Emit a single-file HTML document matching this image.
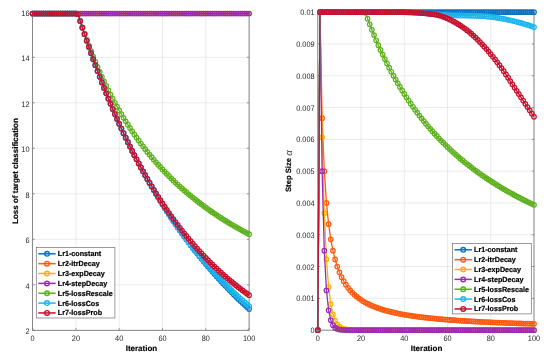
<!DOCTYPE html>
<html><head><meta charset="utf-8"><title>Learning rate comparison</title>
<style>html,body{margin:0;padding:0;background:#fff}svg{display:block}</style></head>
<body>
<svg width="550" height="359" viewBox="0 0 550 359">
<style>text{font-family:"Liberation Sans",Arial,sans-serif;text-rendering:geometricPrecision}.tk{font-size:8.0px;fill:#262626}.lb{font-size:8.0px;font-weight:bold;fill:#000;stroke:#000;stroke-width:0.15px}.lg{font-size:7.4px;font-weight:bold;fill:#000;stroke:#000;stroke-width:0.2px}.lb2{font-size:7.7px}.al{font-size:9.6px;font-weight:normal;font-style:italic;fill:#444;stroke:none}</style>
<rect width="550" height="359" fill="#fff"/>
<line x1="32.60" y1="11.80" x2="32.60" y2="330.30" stroke="#e2e2e2" stroke-width="0.7"/>
<line x1="75.90" y1="11.80" x2="75.90" y2="330.30" stroke="#e2e2e2" stroke-width="0.7"/>
<line x1="119.20" y1="11.80" x2="119.20" y2="330.30" stroke="#e2e2e2" stroke-width="0.7"/>
<line x1="162.50" y1="11.80" x2="162.50" y2="330.30" stroke="#e2e2e2" stroke-width="0.7"/>
<line x1="205.80" y1="11.80" x2="205.80" y2="330.30" stroke="#e2e2e2" stroke-width="0.7"/>
<line x1="249.10" y1="11.80" x2="249.10" y2="330.30" stroke="#e2e2e2" stroke-width="0.7"/>
<line x1="32.60" y1="330.30" x2="249.10" y2="330.30" stroke="#e2e2e2" stroke-width="0.7"/>
<line x1="32.60" y1="284.80" x2="249.10" y2="284.80" stroke="#e2e2e2" stroke-width="0.7"/>
<line x1="32.60" y1="239.30" x2="249.10" y2="239.30" stroke="#e2e2e2" stroke-width="0.7"/>
<line x1="32.60" y1="193.80" x2="249.10" y2="193.80" stroke="#e2e2e2" stroke-width="0.7"/>
<line x1="32.60" y1="148.30" x2="249.10" y2="148.30" stroke="#e2e2e2" stroke-width="0.7"/>
<line x1="32.60" y1="102.80" x2="249.10" y2="102.80" stroke="#e2e2e2" stroke-width="0.7"/>
<line x1="32.60" y1="57.30" x2="249.10" y2="57.30" stroke="#e2e2e2" stroke-width="0.7"/>
<line x1="32.60" y1="11.80" x2="249.10" y2="11.80" stroke="#e2e2e2" stroke-width="0.7"/>
<rect x="32.60" y="11.80" width="216.50" height="318.50" fill="none" stroke="#707070" stroke-width="0.8"/>
<line x1="32.60" y1="330.30" x2="32.60" y2="328.10" stroke="#707070" stroke-width="0.7"/>
<line x1="32.60" y1="11.80" x2="32.60" y2="14.00" stroke="#707070" stroke-width="0.7"/>
<text transform="translate(32.60,340.80) scale(0.92,1)" text-anchor="middle" class="tk">0</text>
<line x1="75.90" y1="330.30" x2="75.90" y2="328.10" stroke="#707070" stroke-width="0.7"/>
<line x1="75.90" y1="11.80" x2="75.90" y2="14.00" stroke="#707070" stroke-width="0.7"/>
<text transform="translate(75.90,340.80) scale(0.92,1)" text-anchor="middle" class="tk">20</text>
<line x1="119.20" y1="330.30" x2="119.20" y2="328.10" stroke="#707070" stroke-width="0.7"/>
<line x1="119.20" y1="11.80" x2="119.20" y2="14.00" stroke="#707070" stroke-width="0.7"/>
<text transform="translate(119.20,340.80) scale(0.92,1)" text-anchor="middle" class="tk">40</text>
<line x1="162.50" y1="330.30" x2="162.50" y2="328.10" stroke="#707070" stroke-width="0.7"/>
<line x1="162.50" y1="11.80" x2="162.50" y2="14.00" stroke="#707070" stroke-width="0.7"/>
<text transform="translate(162.50,340.80) scale(0.92,1)" text-anchor="middle" class="tk">60</text>
<line x1="205.80" y1="330.30" x2="205.80" y2="328.10" stroke="#707070" stroke-width="0.7"/>
<line x1="205.80" y1="11.80" x2="205.80" y2="14.00" stroke="#707070" stroke-width="0.7"/>
<text transform="translate(205.80,340.80) scale(0.92,1)" text-anchor="middle" class="tk">80</text>
<line x1="249.10" y1="330.30" x2="249.10" y2="328.10" stroke="#707070" stroke-width="0.7"/>
<line x1="249.10" y1="11.80" x2="249.10" y2="14.00" stroke="#707070" stroke-width="0.7"/>
<text transform="translate(249.10,340.80) scale(0.92,1)" text-anchor="middle" class="tk">100</text>
<line x1="32.60" y1="330.30" x2="34.80" y2="330.30" stroke="#707070" stroke-width="0.7"/>
<line x1="249.10" y1="330.30" x2="246.90" y2="330.30" stroke="#707070" stroke-width="0.7"/>
<text transform="translate(29.50,334.05) scale(0.92,1)" text-anchor="end" class="tk">2</text>
<line x1="32.60" y1="284.80" x2="34.80" y2="284.80" stroke="#707070" stroke-width="0.7"/>
<line x1="249.10" y1="284.80" x2="246.90" y2="284.80" stroke="#707070" stroke-width="0.7"/>
<text transform="translate(29.50,288.55) scale(0.92,1)" text-anchor="end" class="tk">4</text>
<line x1="32.60" y1="239.30" x2="34.80" y2="239.30" stroke="#707070" stroke-width="0.7"/>
<line x1="249.10" y1="239.30" x2="246.90" y2="239.30" stroke="#707070" stroke-width="0.7"/>
<text transform="translate(29.50,243.05) scale(0.92,1)" text-anchor="end" class="tk">6</text>
<line x1="32.60" y1="193.80" x2="34.80" y2="193.80" stroke="#707070" stroke-width="0.7"/>
<line x1="249.10" y1="193.80" x2="246.90" y2="193.80" stroke="#707070" stroke-width="0.7"/>
<text transform="translate(29.50,197.55) scale(0.92,1)" text-anchor="end" class="tk">8</text>
<line x1="32.60" y1="148.30" x2="34.80" y2="148.30" stroke="#707070" stroke-width="0.7"/>
<line x1="249.10" y1="148.30" x2="246.90" y2="148.30" stroke="#707070" stroke-width="0.7"/>
<text transform="translate(29.50,152.05) scale(0.92,1)" text-anchor="end" class="tk">10</text>
<line x1="32.60" y1="102.80" x2="34.80" y2="102.80" stroke="#707070" stroke-width="0.7"/>
<line x1="249.10" y1="102.80" x2="246.90" y2="102.80" stroke="#707070" stroke-width="0.7"/>
<text transform="translate(29.50,106.55) scale(0.92,1)" text-anchor="end" class="tk">12</text>
<line x1="32.60" y1="57.30" x2="34.80" y2="57.30" stroke="#707070" stroke-width="0.7"/>
<line x1="249.10" y1="57.30" x2="246.90" y2="57.30" stroke="#707070" stroke-width="0.7"/>
<text transform="translate(29.50,61.05) scale(0.92,1)" text-anchor="end" class="tk">14</text>
<line x1="32.60" y1="11.80" x2="34.80" y2="11.80" stroke="#707070" stroke-width="0.7"/>
<line x1="249.10" y1="11.80" x2="246.90" y2="11.80" stroke="#707070" stroke-width="0.7"/>
<text transform="translate(29.50,15.55) scale(0.92,1)" text-anchor="end" class="tk">16</text>
<text transform="translate(141.45,351.30)" text-anchor="middle" class="lb">Iteration</text>
<text transform="translate(18.00,171.05) rotate(-90)" text-anchor="middle" class="lb">Loss of target classification</text>
<g stroke="#0A72C4" fill="none">
<polyline stroke-width="1.3" stroke-linejoin="round" points="32.60,13.51 34.77,13.51 36.93,13.51 39.09,13.51 41.26,13.51 43.43,13.51 45.59,13.51 47.76,13.51 49.92,13.51 52.09,13.51 54.25,13.51 56.42,13.51 58.58,13.51 60.75,13.51 62.91,13.51 65.08,13.51 67.24,13.51 69.41,13.51 71.57,13.51 73.73,13.51 75.90,13.51 78.06,14.19 80.23,21.00 82.40,27.68 84.56,34.23 86.72,40.66 88.89,46.97 91.06,53.15 93.22,59.23 95.38,65.18 97.55,71.03 99.72,76.77 101.88,82.39 104.05,87.92 106.21,93.33 108.38,98.65 110.54,103.87 112.71,108.99 114.87,114.01 117.03,118.93 119.20,123.77 121.37,128.51 123.53,133.17 125.69,137.73 127.86,142.21 130.03,146.61 132.19,150.92 134.35,155.15 136.52,159.31 138.69,163.38 140.85,167.38 143.02,171.33 145.18,175.23 147.34,179.08 149.51,182.88 151.68,186.62 153.84,190.30 156.00,193.93 158.17,197.51 160.34,201.03 162.50,204.50 164.66,207.92 166.83,211.29 169.00,214.60 171.16,217.87 173.32,221.09 175.49,224.26 177.66,227.38 179.82,230.46 181.98,233.49 184.15,236.47 186.31,239.42 188.48,242.32 190.64,245.17 192.81,247.99 194.97,250.76 197.14,253.50 199.31,256.20 201.47,258.86 203.63,261.48 205.80,264.06 207.97,266.61 210.13,269.12 212.29,271.60 214.46,274.05 216.62,276.46 218.79,278.84 220.95,281.18 223.12,283.50 225.28,285.78 227.45,288.04 229.62,290.27 231.78,292.46 233.94,294.63 236.11,296.77 238.27,298.89 240.44,300.97 242.60,303.04 244.77,305.07 246.94,307.09 249.10,309.07"/>
<g stroke-width="1.22"><circle cx="32.60" cy="13.51" r="2.25"/><circle cx="34.77" cy="13.51" r="2.25"/><circle cx="36.93" cy="13.51" r="2.25"/><circle cx="39.09" cy="13.51" r="2.25"/><circle cx="41.26" cy="13.51" r="2.25"/><circle cx="43.43" cy="13.51" r="2.25"/><circle cx="45.59" cy="13.51" r="2.25"/><circle cx="47.76" cy="13.51" r="2.25"/><circle cx="49.92" cy="13.51" r="2.25"/><circle cx="52.09" cy="13.51" r="2.25"/><circle cx="54.25" cy="13.51" r="2.25"/><circle cx="56.42" cy="13.51" r="2.25"/><circle cx="58.58" cy="13.51" r="2.25"/><circle cx="60.75" cy="13.51" r="2.25"/><circle cx="62.91" cy="13.51" r="2.25"/><circle cx="65.08" cy="13.51" r="2.25"/><circle cx="67.24" cy="13.51" r="2.25"/><circle cx="69.41" cy="13.51" r="2.25"/><circle cx="71.57" cy="13.51" r="2.25"/><circle cx="73.73" cy="13.51" r="2.25"/><circle cx="75.90" cy="13.51" r="2.25"/><circle cx="78.06" cy="14.19" r="2.25"/><circle cx="80.23" cy="21.00" r="2.25"/><circle cx="82.40" cy="27.68" r="2.25"/><circle cx="84.56" cy="34.23" r="2.25"/><circle cx="86.72" cy="40.66" r="2.25"/><circle cx="88.89" cy="46.97" r="2.25"/><circle cx="91.06" cy="53.15" r="2.25"/><circle cx="93.22" cy="59.23" r="2.25"/><circle cx="95.38" cy="65.18" r="2.25"/><circle cx="97.55" cy="71.03" r="2.25"/><circle cx="99.72" cy="76.77" r="2.25"/><circle cx="101.88" cy="82.39" r="2.25"/><circle cx="104.05" cy="87.92" r="2.25"/><circle cx="106.21" cy="93.33" r="2.25"/><circle cx="108.38" cy="98.65" r="2.25"/><circle cx="110.54" cy="103.87" r="2.25"/><circle cx="112.71" cy="108.99" r="2.25"/><circle cx="114.87" cy="114.01" r="2.25"/><circle cx="117.03" cy="118.93" r="2.25"/><circle cx="119.20" cy="123.77" r="2.25"/><circle cx="121.37" cy="128.51" r="2.25"/><circle cx="123.53" cy="133.17" r="2.25"/><circle cx="125.69" cy="137.73" r="2.25"/><circle cx="127.86" cy="142.21" r="2.25"/><circle cx="130.03" cy="146.61" r="2.25"/><circle cx="132.19" cy="150.92" r="2.25"/><circle cx="134.35" cy="155.15" r="2.25"/><circle cx="136.52" cy="159.31" r="2.25"/><circle cx="138.69" cy="163.38" r="2.25"/><circle cx="140.85" cy="167.38" r="2.25"/><circle cx="143.02" cy="171.33" r="2.25"/><circle cx="145.18" cy="175.23" r="2.25"/><circle cx="147.34" cy="179.08" r="2.25"/><circle cx="149.51" cy="182.88" r="2.25"/><circle cx="151.68" cy="186.62" r="2.25"/><circle cx="153.84" cy="190.30" r="2.25"/><circle cx="156.00" cy="193.93" r="2.25"/><circle cx="158.17" cy="197.51" r="2.25"/><circle cx="160.34" cy="201.03" r="2.25"/><circle cx="162.50" cy="204.50" r="2.25"/><circle cx="164.66" cy="207.92" r="2.25"/><circle cx="166.83" cy="211.29" r="2.25"/><circle cx="169.00" cy="214.60" r="2.25"/><circle cx="171.16" cy="217.87" r="2.25"/><circle cx="173.32" cy="221.09" r="2.25"/><circle cx="175.49" cy="224.26" r="2.25"/><circle cx="177.66" cy="227.38" r="2.25"/><circle cx="179.82" cy="230.46" r="2.25"/><circle cx="181.98" cy="233.49" r="2.25"/><circle cx="184.15" cy="236.47" r="2.25"/><circle cx="186.31" cy="239.42" r="2.25"/><circle cx="188.48" cy="242.32" r="2.25"/><circle cx="190.64" cy="245.17" r="2.25"/><circle cx="192.81" cy="247.99" r="2.25"/><circle cx="194.97" cy="250.76" r="2.25"/><circle cx="197.14" cy="253.50" r="2.25"/><circle cx="199.31" cy="256.20" r="2.25"/><circle cx="201.47" cy="258.86" r="2.25"/><circle cx="203.63" cy="261.48" r="2.25"/><circle cx="205.80" cy="264.06" r="2.25"/><circle cx="207.97" cy="266.61" r="2.25"/><circle cx="210.13" cy="269.12" r="2.25"/><circle cx="212.29" cy="271.60" r="2.25"/><circle cx="214.46" cy="274.05" r="2.25"/><circle cx="216.62" cy="276.46" r="2.25"/><circle cx="218.79" cy="278.84" r="2.25"/><circle cx="220.95" cy="281.18" r="2.25"/><circle cx="223.12" cy="283.50" r="2.25"/><circle cx="225.28" cy="285.78" r="2.25"/><circle cx="227.45" cy="288.04" r="2.25"/><circle cx="229.62" cy="290.27" r="2.25"/><circle cx="231.78" cy="292.46" r="2.25"/><circle cx="233.94" cy="294.63" r="2.25"/><circle cx="236.11" cy="296.77" r="2.25"/><circle cx="238.27" cy="298.89" r="2.25"/><circle cx="240.44" cy="300.97" r="2.25"/><circle cx="242.60" cy="303.04" r="2.25"/><circle cx="244.77" cy="305.07" r="2.25"/><circle cx="246.94" cy="307.09" r="2.25"/><circle cx="249.10" cy="309.07" r="2.25"/></g>
</g>
<g stroke="#FF5A10" fill="none">
<polyline stroke-width="1.0" stroke-linejoin="round" points="32.60,13.51 34.77,13.51 36.93,13.51 39.09,13.51 41.26,13.51 43.43,13.51 45.59,13.51 47.76,13.51 49.92,13.51 52.09,13.51 54.25,13.51 56.42,13.51 58.58,13.51 60.75,13.51 62.91,13.51 65.08,13.51 67.24,13.51 69.41,13.51 71.57,13.51 73.73,13.51 75.90,13.51 78.06,13.51 80.23,13.51 82.40,13.51 84.56,13.51 86.72,13.51 88.89,13.51 91.06,13.51 93.22,13.51 95.38,13.51 97.55,13.51 99.72,13.51 101.88,13.51 104.05,13.51 106.21,13.51 108.38,13.51 110.54,13.51 112.71,13.51 114.87,13.51 117.03,13.51 119.20,13.51 121.37,13.51 123.53,13.51 125.69,13.51 127.86,13.51 130.03,13.51 132.19,13.51 134.35,13.51 136.52,13.51 138.69,13.51 140.85,13.51 143.02,13.51 145.18,13.51 147.34,13.51 149.51,13.51 151.68,13.51 153.84,13.51 156.00,13.51 158.17,13.51 160.34,13.51 162.50,13.51 164.66,13.51 166.83,13.51 169.00,13.51 171.16,13.51 173.32,13.51 175.49,13.51 177.66,13.51 179.82,13.51 181.98,13.51 184.15,13.51 186.31,13.51 188.48,13.51 190.64,13.51 192.81,13.51 194.97,13.51 197.14,13.51 199.31,13.51 201.47,13.51 203.63,13.51 205.80,13.51 207.97,13.51 210.13,13.51 212.29,13.51 214.46,13.51 216.62,13.51 218.79,13.51 220.95,13.51 223.12,13.51 225.28,13.51 227.45,13.51 229.62,13.51 231.78,13.51 233.94,13.51 236.11,13.51 238.27,13.51 240.44,13.51 242.60,13.51 244.77,13.51 246.94,13.51 249.10,13.51"/>
<g stroke-width="0.9"><circle cx="32.60" cy="13.51" r="2.1"/><circle cx="34.77" cy="13.51" r="2.1"/><circle cx="36.93" cy="13.51" r="2.1"/><circle cx="39.09" cy="13.51" r="2.1"/><circle cx="41.26" cy="13.51" r="2.1"/><circle cx="43.43" cy="13.51" r="2.1"/><circle cx="45.59" cy="13.51" r="2.1"/><circle cx="47.76" cy="13.51" r="2.1"/><circle cx="49.92" cy="13.51" r="2.1"/><circle cx="52.09" cy="13.51" r="2.1"/><circle cx="54.25" cy="13.51" r="2.1"/><circle cx="56.42" cy="13.51" r="2.1"/><circle cx="58.58" cy="13.51" r="2.1"/><circle cx="60.75" cy="13.51" r="2.1"/><circle cx="62.91" cy="13.51" r="2.1"/><circle cx="65.08" cy="13.51" r="2.1"/><circle cx="67.24" cy="13.51" r="2.1"/><circle cx="69.41" cy="13.51" r="2.1"/><circle cx="71.57" cy="13.51" r="2.1"/><circle cx="73.73" cy="13.51" r="2.1"/><circle cx="75.90" cy="13.51" r="2.1"/><circle cx="78.06" cy="13.51" r="2.1"/><circle cx="80.23" cy="13.51" r="2.1"/><circle cx="82.40" cy="13.51" r="2.1"/><circle cx="84.56" cy="13.51" r="2.1"/><circle cx="86.72" cy="13.51" r="2.1"/><circle cx="88.89" cy="13.51" r="2.1"/><circle cx="91.06" cy="13.51" r="2.1"/><circle cx="93.22" cy="13.51" r="2.1"/><circle cx="95.38" cy="13.51" r="2.1"/><circle cx="97.55" cy="13.51" r="2.1"/><circle cx="99.72" cy="13.51" r="2.1"/><circle cx="101.88" cy="13.51" r="2.1"/><circle cx="104.05" cy="13.51" r="2.1"/><circle cx="106.21" cy="13.51" r="2.1"/><circle cx="108.38" cy="13.51" r="2.1"/><circle cx="110.54" cy="13.51" r="2.1"/><circle cx="112.71" cy="13.51" r="2.1"/><circle cx="114.87" cy="13.51" r="2.1"/><circle cx="117.03" cy="13.51" r="2.1"/><circle cx="119.20" cy="13.51" r="2.1"/><circle cx="121.37" cy="13.51" r="2.1"/><circle cx="123.53" cy="13.51" r="2.1"/><circle cx="125.69" cy="13.51" r="2.1"/><circle cx="127.86" cy="13.51" r="2.1"/><circle cx="130.03" cy="13.51" r="2.1"/><circle cx="132.19" cy="13.51" r="2.1"/><circle cx="134.35" cy="13.51" r="2.1"/><circle cx="136.52" cy="13.51" r="2.1"/><circle cx="138.69" cy="13.51" r="2.1"/><circle cx="140.85" cy="13.51" r="2.1"/><circle cx="143.02" cy="13.51" r="2.1"/><circle cx="145.18" cy="13.51" r="2.1"/><circle cx="147.34" cy="13.51" r="2.1"/><circle cx="149.51" cy="13.51" r="2.1"/><circle cx="151.68" cy="13.51" r="2.1"/><circle cx="153.84" cy="13.51" r="2.1"/><circle cx="156.00" cy="13.51" r="2.1"/><circle cx="158.17" cy="13.51" r="2.1"/><circle cx="160.34" cy="13.51" r="2.1"/><circle cx="162.50" cy="13.51" r="2.1"/><circle cx="164.66" cy="13.51" r="2.1"/><circle cx="166.83" cy="13.51" r="2.1"/><circle cx="169.00" cy="13.51" r="2.1"/><circle cx="171.16" cy="13.51" r="2.1"/><circle cx="173.32" cy="13.51" r="2.1"/><circle cx="175.49" cy="13.51" r="2.1"/><circle cx="177.66" cy="13.51" r="2.1"/><circle cx="179.82" cy="13.51" r="2.1"/><circle cx="181.98" cy="13.51" r="2.1"/><circle cx="184.15" cy="13.51" r="2.1"/><circle cx="186.31" cy="13.51" r="2.1"/><circle cx="188.48" cy="13.51" r="2.1"/><circle cx="190.64" cy="13.51" r="2.1"/><circle cx="192.81" cy="13.51" r="2.1"/><circle cx="194.97" cy="13.51" r="2.1"/><circle cx="197.14" cy="13.51" r="2.1"/><circle cx="199.31" cy="13.51" r="2.1"/><circle cx="201.47" cy="13.51" r="2.1"/><circle cx="203.63" cy="13.51" r="2.1"/><circle cx="205.80" cy="13.51" r="2.1"/><circle cx="207.97" cy="13.51" r="2.1"/><circle cx="210.13" cy="13.51" r="2.1"/><circle cx="212.29" cy="13.51" r="2.1"/><circle cx="214.46" cy="13.51" r="2.1"/><circle cx="216.62" cy="13.51" r="2.1"/><circle cx="218.79" cy="13.51" r="2.1"/><circle cx="220.95" cy="13.51" r="2.1"/><circle cx="223.12" cy="13.51" r="2.1"/><circle cx="225.28" cy="13.51" r="2.1"/><circle cx="227.45" cy="13.51" r="2.1"/><circle cx="229.62" cy="13.51" r="2.1"/><circle cx="231.78" cy="13.51" r="2.1"/><circle cx="233.94" cy="13.51" r="2.1"/><circle cx="236.11" cy="13.51" r="2.1"/><circle cx="238.27" cy="13.51" r="2.1"/><circle cx="240.44" cy="13.51" r="2.1"/><circle cx="242.60" cy="13.51" r="2.1"/><circle cx="244.77" cy="13.51" r="2.1"/><circle cx="246.94" cy="13.51" r="2.1"/><circle cx="249.10" cy="13.51" r="2.1"/></g>
</g>
<g stroke="#FFB000" fill="none">
<polyline stroke-width="1.0" stroke-linejoin="round" points="32.60,13.51 34.77,13.51 36.93,13.51 39.09,13.51 41.26,13.51 43.43,13.51 45.59,13.51 47.76,13.51 49.92,13.51 52.09,13.51 54.25,13.51 56.42,13.51 58.58,13.51 60.75,13.51 62.91,13.51 65.08,13.51 67.24,13.51 69.41,13.51 71.57,13.51 73.73,13.51 75.90,13.51 78.06,13.51 80.23,13.51 82.40,13.51 84.56,13.51 86.72,13.51 88.89,13.51 91.06,13.51 93.22,13.51 95.38,13.51 97.55,13.51 99.72,13.51 101.88,13.51 104.05,13.51 106.21,13.51 108.38,13.51 110.54,13.51 112.71,13.51 114.87,13.51 117.03,13.51 119.20,13.51 121.37,13.51 123.53,13.51 125.69,13.51 127.86,13.51 130.03,13.51 132.19,13.51 134.35,13.51 136.52,13.51 138.69,13.51 140.85,13.51 143.02,13.51 145.18,13.51 147.34,13.51 149.51,13.51 151.68,13.51 153.84,13.51 156.00,13.51 158.17,13.51 160.34,13.51 162.50,13.51 164.66,13.51 166.83,13.51 169.00,13.51 171.16,13.51 173.32,13.51 175.49,13.51 177.66,13.51 179.82,13.51 181.98,13.51 184.15,13.51 186.31,13.51 188.48,13.51 190.64,13.51 192.81,13.51 194.97,13.51 197.14,13.51 199.31,13.51 201.47,13.51 203.63,13.51 205.80,13.51 207.97,13.51 210.13,13.51 212.29,13.51 214.46,13.51 216.62,13.51 218.79,13.51 220.95,13.51 223.12,13.51 225.28,13.51 227.45,13.51 229.62,13.51 231.78,13.51 233.94,13.51 236.11,13.51 238.27,13.51 240.44,13.51 242.60,13.51 244.77,13.51 246.94,13.51 249.10,13.51"/>
<g stroke-width="0.9"><circle cx="32.60" cy="13.51" r="2.1"/><circle cx="34.77" cy="13.51" r="2.1"/><circle cx="36.93" cy="13.51" r="2.1"/><circle cx="39.09" cy="13.51" r="2.1"/><circle cx="41.26" cy="13.51" r="2.1"/><circle cx="43.43" cy="13.51" r="2.1"/><circle cx="45.59" cy="13.51" r="2.1"/><circle cx="47.76" cy="13.51" r="2.1"/><circle cx="49.92" cy="13.51" r="2.1"/><circle cx="52.09" cy="13.51" r="2.1"/><circle cx="54.25" cy="13.51" r="2.1"/><circle cx="56.42" cy="13.51" r="2.1"/><circle cx="58.58" cy="13.51" r="2.1"/><circle cx="60.75" cy="13.51" r="2.1"/><circle cx="62.91" cy="13.51" r="2.1"/><circle cx="65.08" cy="13.51" r="2.1"/><circle cx="67.24" cy="13.51" r="2.1"/><circle cx="69.41" cy="13.51" r="2.1"/><circle cx="71.57" cy="13.51" r="2.1"/><circle cx="73.73" cy="13.51" r="2.1"/><circle cx="75.90" cy="13.51" r="2.1"/><circle cx="78.06" cy="13.51" r="2.1"/><circle cx="80.23" cy="13.51" r="2.1"/><circle cx="82.40" cy="13.51" r="2.1"/><circle cx="84.56" cy="13.51" r="2.1"/><circle cx="86.72" cy="13.51" r="2.1"/><circle cx="88.89" cy="13.51" r="2.1"/><circle cx="91.06" cy="13.51" r="2.1"/><circle cx="93.22" cy="13.51" r="2.1"/><circle cx="95.38" cy="13.51" r="2.1"/><circle cx="97.55" cy="13.51" r="2.1"/><circle cx="99.72" cy="13.51" r="2.1"/><circle cx="101.88" cy="13.51" r="2.1"/><circle cx="104.05" cy="13.51" r="2.1"/><circle cx="106.21" cy="13.51" r="2.1"/><circle cx="108.38" cy="13.51" r="2.1"/><circle cx="110.54" cy="13.51" r="2.1"/><circle cx="112.71" cy="13.51" r="2.1"/><circle cx="114.87" cy="13.51" r="2.1"/><circle cx="117.03" cy="13.51" r="2.1"/><circle cx="119.20" cy="13.51" r="2.1"/><circle cx="121.37" cy="13.51" r="2.1"/><circle cx="123.53" cy="13.51" r="2.1"/><circle cx="125.69" cy="13.51" r="2.1"/><circle cx="127.86" cy="13.51" r="2.1"/><circle cx="130.03" cy="13.51" r="2.1"/><circle cx="132.19" cy="13.51" r="2.1"/><circle cx="134.35" cy="13.51" r="2.1"/><circle cx="136.52" cy="13.51" r="2.1"/><circle cx="138.69" cy="13.51" r="2.1"/><circle cx="140.85" cy="13.51" r="2.1"/><circle cx="143.02" cy="13.51" r="2.1"/><circle cx="145.18" cy="13.51" r="2.1"/><circle cx="147.34" cy="13.51" r="2.1"/><circle cx="149.51" cy="13.51" r="2.1"/><circle cx="151.68" cy="13.51" r="2.1"/><circle cx="153.84" cy="13.51" r="2.1"/><circle cx="156.00" cy="13.51" r="2.1"/><circle cx="158.17" cy="13.51" r="2.1"/><circle cx="160.34" cy="13.51" r="2.1"/><circle cx="162.50" cy="13.51" r="2.1"/><circle cx="164.66" cy="13.51" r="2.1"/><circle cx="166.83" cy="13.51" r="2.1"/><circle cx="169.00" cy="13.51" r="2.1"/><circle cx="171.16" cy="13.51" r="2.1"/><circle cx="173.32" cy="13.51" r="2.1"/><circle cx="175.49" cy="13.51" r="2.1"/><circle cx="177.66" cy="13.51" r="2.1"/><circle cx="179.82" cy="13.51" r="2.1"/><circle cx="181.98" cy="13.51" r="2.1"/><circle cx="184.15" cy="13.51" r="2.1"/><circle cx="186.31" cy="13.51" r="2.1"/><circle cx="188.48" cy="13.51" r="2.1"/><circle cx="190.64" cy="13.51" r="2.1"/><circle cx="192.81" cy="13.51" r="2.1"/><circle cx="194.97" cy="13.51" r="2.1"/><circle cx="197.14" cy="13.51" r="2.1"/><circle cx="199.31" cy="13.51" r="2.1"/><circle cx="201.47" cy="13.51" r="2.1"/><circle cx="203.63" cy="13.51" r="2.1"/><circle cx="205.80" cy="13.51" r="2.1"/><circle cx="207.97" cy="13.51" r="2.1"/><circle cx="210.13" cy="13.51" r="2.1"/><circle cx="212.29" cy="13.51" r="2.1"/><circle cx="214.46" cy="13.51" r="2.1"/><circle cx="216.62" cy="13.51" r="2.1"/><circle cx="218.79" cy="13.51" r="2.1"/><circle cx="220.95" cy="13.51" r="2.1"/><circle cx="223.12" cy="13.51" r="2.1"/><circle cx="225.28" cy="13.51" r="2.1"/><circle cx="227.45" cy="13.51" r="2.1"/><circle cx="229.62" cy="13.51" r="2.1"/><circle cx="231.78" cy="13.51" r="2.1"/><circle cx="233.94" cy="13.51" r="2.1"/><circle cx="236.11" cy="13.51" r="2.1"/><circle cx="238.27" cy="13.51" r="2.1"/><circle cx="240.44" cy="13.51" r="2.1"/><circle cx="242.60" cy="13.51" r="2.1"/><circle cx="244.77" cy="13.51" r="2.1"/><circle cx="246.94" cy="13.51" r="2.1"/><circle cx="249.10" cy="13.51" r="2.1"/></g>
</g>
<g stroke="#9A2CB0" fill="none">
<polyline stroke-width="1.3" stroke-linejoin="round" points="32.60,13.51 34.77,13.51 36.93,13.51 39.09,13.51 41.26,13.51 43.43,13.51 45.59,13.51 47.76,13.51 49.92,13.51 52.09,13.51 54.25,13.51 56.42,13.51 58.58,13.51 60.75,13.51 62.91,13.51 65.08,13.51 67.24,13.51 69.41,13.51 71.57,13.51 73.73,13.51 75.90,13.51 78.06,13.51 80.23,13.51 82.40,13.51 84.56,13.51 86.72,13.51 88.89,13.51 91.06,13.51 93.22,13.51 95.38,13.51 97.55,13.51 99.72,13.51 101.88,13.51 104.05,13.51 106.21,13.51 108.38,13.51 110.54,13.51 112.71,13.51 114.87,13.51 117.03,13.51 119.20,13.51 121.37,13.51 123.53,13.51 125.69,13.51 127.86,13.51 130.03,13.51 132.19,13.51 134.35,13.51 136.52,13.51 138.69,13.51 140.85,13.51 143.02,13.51 145.18,13.51 147.34,13.51 149.51,13.51 151.68,13.51 153.84,13.51 156.00,13.51 158.17,13.51 160.34,13.51 162.50,13.51 164.66,13.51 166.83,13.51 169.00,13.51 171.16,13.51 173.32,13.51 175.49,13.51 177.66,13.51 179.82,13.51 181.98,13.51 184.15,13.51 186.31,13.51 188.48,13.51 190.64,13.51 192.81,13.51 194.97,13.51 197.14,13.51 199.31,13.51 201.47,13.51 203.63,13.51 205.80,13.51 207.97,13.51 210.13,13.51 212.29,13.51 214.46,13.51 216.62,13.51 218.79,13.51 220.95,13.51 223.12,13.51 225.28,13.51 227.45,13.51 229.62,13.51 231.78,13.51 233.94,13.51 236.11,13.51 238.27,13.51 240.44,13.51 242.60,13.51 244.77,13.51 246.94,13.51 249.10,13.51"/>
<g stroke-width="1.22"><circle cx="32.60" cy="13.51" r="2.25"/><circle cx="34.77" cy="13.51" r="2.25"/><circle cx="36.93" cy="13.51" r="2.25"/><circle cx="39.09" cy="13.51" r="2.25"/><circle cx="41.26" cy="13.51" r="2.25"/><circle cx="43.43" cy="13.51" r="2.25"/><circle cx="45.59" cy="13.51" r="2.25"/><circle cx="47.76" cy="13.51" r="2.25"/><circle cx="49.92" cy="13.51" r="2.25"/><circle cx="52.09" cy="13.51" r="2.25"/><circle cx="54.25" cy="13.51" r="2.25"/><circle cx="56.42" cy="13.51" r="2.25"/><circle cx="58.58" cy="13.51" r="2.25"/><circle cx="60.75" cy="13.51" r="2.25"/><circle cx="62.91" cy="13.51" r="2.25"/><circle cx="65.08" cy="13.51" r="2.25"/><circle cx="67.24" cy="13.51" r="2.25"/><circle cx="69.41" cy="13.51" r="2.25"/><circle cx="71.57" cy="13.51" r="2.25"/><circle cx="73.73" cy="13.51" r="2.25"/><circle cx="75.90" cy="13.51" r="2.25"/><circle cx="78.06" cy="13.51" r="2.25"/><circle cx="80.23" cy="13.51" r="2.25"/><circle cx="82.40" cy="13.51" r="2.25"/><circle cx="84.56" cy="13.51" r="2.25"/><circle cx="86.72" cy="13.51" r="2.25"/><circle cx="88.89" cy="13.51" r="2.25"/><circle cx="91.06" cy="13.51" r="2.25"/><circle cx="93.22" cy="13.51" r="2.25"/><circle cx="95.38" cy="13.51" r="2.25"/><circle cx="97.55" cy="13.51" r="2.25"/><circle cx="99.72" cy="13.51" r="2.25"/><circle cx="101.88" cy="13.51" r="2.25"/><circle cx="104.05" cy="13.51" r="2.25"/><circle cx="106.21" cy="13.51" r="2.25"/><circle cx="108.38" cy="13.51" r="2.25"/><circle cx="110.54" cy="13.51" r="2.25"/><circle cx="112.71" cy="13.51" r="2.25"/><circle cx="114.87" cy="13.51" r="2.25"/><circle cx="117.03" cy="13.51" r="2.25"/><circle cx="119.20" cy="13.51" r="2.25"/><circle cx="121.37" cy="13.51" r="2.25"/><circle cx="123.53" cy="13.51" r="2.25"/><circle cx="125.69" cy="13.51" r="2.25"/><circle cx="127.86" cy="13.51" r="2.25"/><circle cx="130.03" cy="13.51" r="2.25"/><circle cx="132.19" cy="13.51" r="2.25"/><circle cx="134.35" cy="13.51" r="2.25"/><circle cx="136.52" cy="13.51" r="2.25"/><circle cx="138.69" cy="13.51" r="2.25"/><circle cx="140.85" cy="13.51" r="2.25"/><circle cx="143.02" cy="13.51" r="2.25"/><circle cx="145.18" cy="13.51" r="2.25"/><circle cx="147.34" cy="13.51" r="2.25"/><circle cx="149.51" cy="13.51" r="2.25"/><circle cx="151.68" cy="13.51" r="2.25"/><circle cx="153.84" cy="13.51" r="2.25"/><circle cx="156.00" cy="13.51" r="2.25"/><circle cx="158.17" cy="13.51" r="2.25"/><circle cx="160.34" cy="13.51" r="2.25"/><circle cx="162.50" cy="13.51" r="2.25"/><circle cx="164.66" cy="13.51" r="2.25"/><circle cx="166.83" cy="13.51" r="2.25"/><circle cx="169.00" cy="13.51" r="2.25"/><circle cx="171.16" cy="13.51" r="2.25"/><circle cx="173.32" cy="13.51" r="2.25"/><circle cx="175.49" cy="13.51" r="2.25"/><circle cx="177.66" cy="13.51" r="2.25"/><circle cx="179.82" cy="13.51" r="2.25"/><circle cx="181.98" cy="13.51" r="2.25"/><circle cx="184.15" cy="13.51" r="2.25"/><circle cx="186.31" cy="13.51" r="2.25"/><circle cx="188.48" cy="13.51" r="2.25"/><circle cx="190.64" cy="13.51" r="2.25"/><circle cx="192.81" cy="13.51" r="2.25"/><circle cx="194.97" cy="13.51" r="2.25"/><circle cx="197.14" cy="13.51" r="2.25"/><circle cx="199.31" cy="13.51" r="2.25"/><circle cx="201.47" cy="13.51" r="2.25"/><circle cx="203.63" cy="13.51" r="2.25"/><circle cx="205.80" cy="13.51" r="2.25"/><circle cx="207.97" cy="13.51" r="2.25"/><circle cx="210.13" cy="13.51" r="2.25"/><circle cx="212.29" cy="13.51" r="2.25"/><circle cx="214.46" cy="13.51" r="2.25"/><circle cx="216.62" cy="13.51" r="2.25"/><circle cx="218.79" cy="13.51" r="2.25"/><circle cx="220.95" cy="13.51" r="2.25"/><circle cx="223.12" cy="13.51" r="2.25"/><circle cx="225.28" cy="13.51" r="2.25"/><circle cx="227.45" cy="13.51" r="2.25"/><circle cx="229.62" cy="13.51" r="2.25"/><circle cx="231.78" cy="13.51" r="2.25"/><circle cx="233.94" cy="13.51" r="2.25"/><circle cx="236.11" cy="13.51" r="2.25"/><circle cx="238.27" cy="13.51" r="2.25"/><circle cx="240.44" cy="13.51" r="2.25"/><circle cx="242.60" cy="13.51" r="2.25"/><circle cx="244.77" cy="13.51" r="2.25"/><circle cx="246.94" cy="13.51" r="2.25"/><circle cx="249.10" cy="13.51" r="2.25"/></g>
</g>
<g stroke="#5DB11E" fill="none">
<polyline stroke-width="1.3" stroke-linejoin="round" points="32.60,13.51 34.77,13.51 36.93,13.51 39.09,13.51 41.26,13.51 43.43,13.51 45.59,13.51 47.76,13.51 49.92,13.51 52.09,13.51 54.25,13.51 56.42,13.51 58.58,13.51 60.75,13.51 62.91,13.51 65.08,13.51 67.24,13.51 69.41,13.51 71.57,13.51 73.73,13.51 75.90,13.51 78.06,14.19 80.23,20.91 82.40,27.39 84.56,33.64 86.72,39.68 88.89,45.51 91.06,51.15 93.22,56.61 95.38,61.89 97.55,67.00 99.72,71.96 101.88,76.76 104.05,81.42 106.21,85.94 108.38,90.33 110.54,94.59 112.71,98.73 114.87,102.75 117.03,106.66 119.20,110.47 121.37,114.17 123.53,117.78 125.69,121.29 127.86,124.71 130.03,128.04 132.19,131.29 134.35,134.45 136.52,137.54 138.69,140.55 140.85,143.49 143.02,146.37 145.18,149.17 147.34,151.91 149.51,154.58 151.68,157.20 153.84,159.76 156.00,162.26 158.17,164.70 160.34,167.09 162.50,169.43 164.66,171.72 166.83,173.97 169.00,176.16 171.16,178.31 173.32,180.42 175.49,182.49 177.66,184.51 179.82,186.49 181.98,188.44 184.15,190.34 186.31,192.21 188.48,194.05 190.64,195.85 192.81,197.61 194.97,199.35 197.14,201.05 199.31,202.72 201.47,204.36 203.63,205.97 205.80,207.55 207.97,209.11 210.13,210.64 212.29,212.14 214.46,213.62 216.62,215.07 218.79,216.49 220.95,217.90 223.12,219.28 225.28,220.63 227.45,221.97 229.62,223.28 231.78,224.57 233.94,225.85 236.11,227.10 238.27,228.33 240.44,229.54 242.60,230.74 244.77,231.91 246.94,233.07 249.10,234.21"/>
<g stroke-width="1.22"><circle cx="32.60" cy="13.51" r="2.25"/><circle cx="34.77" cy="13.51" r="2.25"/><circle cx="36.93" cy="13.51" r="2.25"/><circle cx="39.09" cy="13.51" r="2.25"/><circle cx="41.26" cy="13.51" r="2.25"/><circle cx="43.43" cy="13.51" r="2.25"/><circle cx="45.59" cy="13.51" r="2.25"/><circle cx="47.76" cy="13.51" r="2.25"/><circle cx="49.92" cy="13.51" r="2.25"/><circle cx="52.09" cy="13.51" r="2.25"/><circle cx="54.25" cy="13.51" r="2.25"/><circle cx="56.42" cy="13.51" r="2.25"/><circle cx="58.58" cy="13.51" r="2.25"/><circle cx="60.75" cy="13.51" r="2.25"/><circle cx="62.91" cy="13.51" r="2.25"/><circle cx="65.08" cy="13.51" r="2.25"/><circle cx="67.24" cy="13.51" r="2.25"/><circle cx="69.41" cy="13.51" r="2.25"/><circle cx="71.57" cy="13.51" r="2.25"/><circle cx="73.73" cy="13.51" r="2.25"/><circle cx="75.90" cy="13.51" r="2.25"/><circle cx="78.06" cy="14.19" r="2.25"/><circle cx="80.23" cy="20.91" r="2.25"/><circle cx="82.40" cy="27.39" r="2.25"/><circle cx="84.56" cy="33.64" r="2.25"/><circle cx="86.72" cy="39.68" r="2.25"/><circle cx="88.89" cy="45.51" r="2.25"/><circle cx="91.06" cy="51.15" r="2.25"/><circle cx="93.22" cy="56.61" r="2.25"/><circle cx="95.38" cy="61.89" r="2.25"/><circle cx="97.55" cy="67.00" r="2.25"/><circle cx="99.72" cy="71.96" r="2.25"/><circle cx="101.88" cy="76.76" r="2.25"/><circle cx="104.05" cy="81.42" r="2.25"/><circle cx="106.21" cy="85.94" r="2.25"/><circle cx="108.38" cy="90.33" r="2.25"/><circle cx="110.54" cy="94.59" r="2.25"/><circle cx="112.71" cy="98.73" r="2.25"/><circle cx="114.87" cy="102.75" r="2.25"/><circle cx="117.03" cy="106.66" r="2.25"/><circle cx="119.20" cy="110.47" r="2.25"/><circle cx="121.37" cy="114.17" r="2.25"/><circle cx="123.53" cy="117.78" r="2.25"/><circle cx="125.69" cy="121.29" r="2.25"/><circle cx="127.86" cy="124.71" r="2.25"/><circle cx="130.03" cy="128.04" r="2.25"/><circle cx="132.19" cy="131.29" r="2.25"/><circle cx="134.35" cy="134.45" r="2.25"/><circle cx="136.52" cy="137.54" r="2.25"/><circle cx="138.69" cy="140.55" r="2.25"/><circle cx="140.85" cy="143.49" r="2.25"/><circle cx="143.02" cy="146.37" r="2.25"/><circle cx="145.18" cy="149.17" r="2.25"/><circle cx="147.34" cy="151.91" r="2.25"/><circle cx="149.51" cy="154.58" r="2.25"/><circle cx="151.68" cy="157.20" r="2.25"/><circle cx="153.84" cy="159.76" r="2.25"/><circle cx="156.00" cy="162.26" r="2.25"/><circle cx="158.17" cy="164.70" r="2.25"/><circle cx="160.34" cy="167.09" r="2.25"/><circle cx="162.50" cy="169.43" r="2.25"/><circle cx="164.66" cy="171.72" r="2.25"/><circle cx="166.83" cy="173.97" r="2.25"/><circle cx="169.00" cy="176.16" r="2.25"/><circle cx="171.16" cy="178.31" r="2.25"/><circle cx="173.32" cy="180.42" r="2.25"/><circle cx="175.49" cy="182.49" r="2.25"/><circle cx="177.66" cy="184.51" r="2.25"/><circle cx="179.82" cy="186.49" r="2.25"/><circle cx="181.98" cy="188.44" r="2.25"/><circle cx="184.15" cy="190.34" r="2.25"/><circle cx="186.31" cy="192.21" r="2.25"/><circle cx="188.48" cy="194.05" r="2.25"/><circle cx="190.64" cy="195.85" r="2.25"/><circle cx="192.81" cy="197.61" r="2.25"/><circle cx="194.97" cy="199.35" r="2.25"/><circle cx="197.14" cy="201.05" r="2.25"/><circle cx="199.31" cy="202.72" r="2.25"/><circle cx="201.47" cy="204.36" r="2.25"/><circle cx="203.63" cy="205.97" r="2.25"/><circle cx="205.80" cy="207.55" r="2.25"/><circle cx="207.97" cy="209.11" r="2.25"/><circle cx="210.13" cy="210.64" r="2.25"/><circle cx="212.29" cy="212.14" r="2.25"/><circle cx="214.46" cy="213.62" r="2.25"/><circle cx="216.62" cy="215.07" r="2.25"/><circle cx="218.79" cy="216.49" r="2.25"/><circle cx="220.95" cy="217.90" r="2.25"/><circle cx="223.12" cy="219.28" r="2.25"/><circle cx="225.28" cy="220.63" r="2.25"/><circle cx="227.45" cy="221.97" r="2.25"/><circle cx="229.62" cy="223.28" r="2.25"/><circle cx="231.78" cy="224.57" r="2.25"/><circle cx="233.94" cy="225.85" r="2.25"/><circle cx="236.11" cy="227.10" r="2.25"/><circle cx="238.27" cy="228.33" r="2.25"/><circle cx="240.44" cy="229.54" r="2.25"/><circle cx="242.60" cy="230.74" r="2.25"/><circle cx="244.77" cy="231.91" r="2.25"/><circle cx="246.94" cy="233.07" r="2.25"/><circle cx="249.10" cy="234.21" r="2.25"/></g>
</g>
<g stroke="#1CB6F0" fill="none">
<polyline stroke-width="1.3" stroke-linejoin="round" points="32.60,13.51 34.77,13.51 36.93,13.51 39.09,13.51 41.26,13.51 43.43,13.51 45.59,13.51 47.76,13.51 49.92,13.51 52.09,13.51 54.25,13.51 56.42,13.51 58.58,13.51 60.75,13.51 62.91,13.51 65.08,13.51 67.24,13.51 69.41,13.51 71.57,13.51 73.73,13.51 75.90,13.51 78.06,14.19 80.23,21.00 82.40,27.68 84.56,34.23 86.72,40.66 88.89,46.97 91.06,53.15 93.22,59.23 95.38,65.18 97.55,71.03 99.72,76.77 101.88,82.39 104.05,87.92 106.21,93.33 108.38,98.65 110.54,103.87 112.71,108.99 114.87,114.01 117.03,118.93 119.20,123.77 121.37,128.51 123.53,133.17 125.69,137.73 127.86,142.21 130.03,146.61 132.19,150.92 134.35,155.15 136.52,159.31 138.69,163.38 140.85,167.38 143.02,171.34 145.18,175.25 147.34,179.11 149.51,182.91 151.68,186.66 153.84,190.34 156.00,193.97 158.17,197.54 160.34,201.05 162.50,204.50 164.66,207.90 166.83,211.25 169.00,214.54 171.16,217.78 173.32,220.97 175.49,224.11 177.66,227.19 179.82,230.23 181.98,233.22 184.15,236.16 186.31,239.06 188.48,241.90 190.64,244.71 192.81,247.47 194.97,250.18 197.14,252.86 199.31,255.49 201.47,258.08 203.63,260.63 205.80,263.14 207.97,265.61 210.13,268.05 212.29,270.44 214.46,272.80 216.62,275.13 218.79,277.41 220.95,279.67 223.12,281.89 225.28,284.08 227.45,286.23 229.62,288.35 231.78,290.44 233.94,292.50 236.11,294.53 238.27,296.54 240.44,298.51 242.60,300.45 244.77,302.37 246.94,304.25 249.10,306.12"/>
<g stroke-width="1.22"><circle cx="32.60" cy="13.51" r="2.25"/><circle cx="34.77" cy="13.51" r="2.25"/><circle cx="36.93" cy="13.51" r="2.25"/><circle cx="39.09" cy="13.51" r="2.25"/><circle cx="41.26" cy="13.51" r="2.25"/><circle cx="43.43" cy="13.51" r="2.25"/><circle cx="45.59" cy="13.51" r="2.25"/><circle cx="47.76" cy="13.51" r="2.25"/><circle cx="49.92" cy="13.51" r="2.25"/><circle cx="52.09" cy="13.51" r="2.25"/><circle cx="54.25" cy="13.51" r="2.25"/><circle cx="56.42" cy="13.51" r="2.25"/><circle cx="58.58" cy="13.51" r="2.25"/><circle cx="60.75" cy="13.51" r="2.25"/><circle cx="62.91" cy="13.51" r="2.25"/><circle cx="65.08" cy="13.51" r="2.25"/><circle cx="67.24" cy="13.51" r="2.25"/><circle cx="69.41" cy="13.51" r="2.25"/><circle cx="71.57" cy="13.51" r="2.25"/><circle cx="73.73" cy="13.51" r="2.25"/><circle cx="75.90" cy="13.51" r="2.25"/><circle cx="78.06" cy="14.19" r="2.25"/><circle cx="80.23" cy="21.00" r="2.25"/><circle cx="82.40" cy="27.68" r="2.25"/><circle cx="84.56" cy="34.23" r="2.25"/><circle cx="86.72" cy="40.66" r="2.25"/><circle cx="88.89" cy="46.97" r="2.25"/><circle cx="91.06" cy="53.15" r="2.25"/><circle cx="93.22" cy="59.23" r="2.25"/><circle cx="95.38" cy="65.18" r="2.25"/><circle cx="97.55" cy="71.03" r="2.25"/><circle cx="99.72" cy="76.77" r="2.25"/><circle cx="101.88" cy="82.39" r="2.25"/><circle cx="104.05" cy="87.92" r="2.25"/><circle cx="106.21" cy="93.33" r="2.25"/><circle cx="108.38" cy="98.65" r="2.25"/><circle cx="110.54" cy="103.87" r="2.25"/><circle cx="112.71" cy="108.99" r="2.25"/><circle cx="114.87" cy="114.01" r="2.25"/><circle cx="117.03" cy="118.93" r="2.25"/><circle cx="119.20" cy="123.77" r="2.25"/><circle cx="121.37" cy="128.51" r="2.25"/><circle cx="123.53" cy="133.17" r="2.25"/><circle cx="125.69" cy="137.73" r="2.25"/><circle cx="127.86" cy="142.21" r="2.25"/><circle cx="130.03" cy="146.61" r="2.25"/><circle cx="132.19" cy="150.92" r="2.25"/><circle cx="134.35" cy="155.15" r="2.25"/><circle cx="136.52" cy="159.31" r="2.25"/><circle cx="138.69" cy="163.38" r="2.25"/><circle cx="140.85" cy="167.38" r="2.25"/><circle cx="143.02" cy="171.34" r="2.25"/><circle cx="145.18" cy="175.25" r="2.25"/><circle cx="147.34" cy="179.11" r="2.25"/><circle cx="149.51" cy="182.91" r="2.25"/><circle cx="151.68" cy="186.66" r="2.25"/><circle cx="153.84" cy="190.34" r="2.25"/><circle cx="156.00" cy="193.97" r="2.25"/><circle cx="158.17" cy="197.54" r="2.25"/><circle cx="160.34" cy="201.05" r="2.25"/><circle cx="162.50" cy="204.50" r="2.25"/><circle cx="164.66" cy="207.90" r="2.25"/><circle cx="166.83" cy="211.25" r="2.25"/><circle cx="169.00" cy="214.54" r="2.25"/><circle cx="171.16" cy="217.78" r="2.25"/><circle cx="173.32" cy="220.97" r="2.25"/><circle cx="175.49" cy="224.11" r="2.25"/><circle cx="177.66" cy="227.19" r="2.25"/><circle cx="179.82" cy="230.23" r="2.25"/><circle cx="181.98" cy="233.22" r="2.25"/><circle cx="184.15" cy="236.16" r="2.25"/><circle cx="186.31" cy="239.06" r="2.25"/><circle cx="188.48" cy="241.90" r="2.25"/><circle cx="190.64" cy="244.71" r="2.25"/><circle cx="192.81" cy="247.47" r="2.25"/><circle cx="194.97" cy="250.18" r="2.25"/><circle cx="197.14" cy="252.86" r="2.25"/><circle cx="199.31" cy="255.49" r="2.25"/><circle cx="201.47" cy="258.08" r="2.25"/><circle cx="203.63" cy="260.63" r="2.25"/><circle cx="205.80" cy="263.14" r="2.25"/><circle cx="207.97" cy="265.61" r="2.25"/><circle cx="210.13" cy="268.05" r="2.25"/><circle cx="212.29" cy="270.44" r="2.25"/><circle cx="214.46" cy="272.80" r="2.25"/><circle cx="216.62" cy="275.13" r="2.25"/><circle cx="218.79" cy="277.41" r="2.25"/><circle cx="220.95" cy="279.67" r="2.25"/><circle cx="223.12" cy="281.89" r="2.25"/><circle cx="225.28" cy="284.08" r="2.25"/><circle cx="227.45" cy="286.23" r="2.25"/><circle cx="229.62" cy="288.35" r="2.25"/><circle cx="231.78" cy="290.44" r="2.25"/><circle cx="233.94" cy="292.50" r="2.25"/><circle cx="236.11" cy="294.53" r="2.25"/><circle cx="238.27" cy="296.54" r="2.25"/><circle cx="240.44" cy="298.51" r="2.25"/><circle cx="242.60" cy="300.45" r="2.25"/><circle cx="244.77" cy="302.37" r="2.25"/><circle cx="246.94" cy="304.25" r="2.25"/><circle cx="249.10" cy="306.12" r="2.25"/></g>
</g>
<g stroke="#C8102E" fill="none">
<polyline stroke-width="1.3" stroke-linejoin="round" points="32.60,13.51 34.77,13.51 36.93,13.51 39.09,13.51 41.26,13.51 43.43,13.51 45.59,13.51 47.76,13.51 49.92,13.51 52.09,13.51 54.25,13.51 56.42,13.51 58.58,13.51 60.75,13.51 62.91,13.51 65.08,13.51 67.24,13.51 69.41,13.51 71.57,13.51 73.73,13.51 75.90,13.51 78.06,14.19 80.23,21.00 82.40,27.68 84.56,34.23 86.72,40.66 88.89,46.97 91.06,53.15 93.22,59.23 95.38,65.18 97.55,71.03 99.72,76.77 101.88,82.39 104.05,87.92 106.21,93.33 108.38,98.65 110.54,103.87 112.71,108.99 114.87,114.01 117.03,118.93 119.20,123.77 121.37,128.51 123.53,133.17 125.69,137.73 127.86,142.21 130.03,146.61 132.19,150.92 134.35,155.15 136.52,159.31 138.69,163.38 140.85,167.38 143.02,171.30 145.18,175.15 147.34,178.93 149.51,182.63 151.68,186.27 153.84,189.84 156.00,193.34 158.17,196.77 160.34,200.14 162.50,203.45 164.66,206.69 166.83,209.87 169.00,212.99 171.16,216.06 173.32,219.07 175.49,222.02 177.66,224.91 179.82,227.75 181.98,230.54 184.15,233.27 186.31,235.95 188.48,238.58 190.64,241.17 192.81,243.70 194.97,246.19 197.14,248.63 199.31,251.02 201.47,253.37 203.63,255.67 205.80,257.93 207.97,260.15 210.13,262.33 212.29,264.46 214.46,266.56 216.62,268.62 218.79,270.63 220.95,272.61 223.12,274.55 225.28,276.46 227.45,278.33 229.62,280.16 231.78,281.96 233.94,283.73 236.11,285.46 238.27,287.16 240.44,288.83 242.60,290.47 244.77,292.07 246.94,293.65 249.10,295.20"/>
<g stroke-width="1.22"><circle cx="32.60" cy="13.51" r="2.25"/><circle cx="34.77" cy="13.51" r="2.25"/><circle cx="36.93" cy="13.51" r="2.25"/><circle cx="39.09" cy="13.51" r="2.25"/><circle cx="41.26" cy="13.51" r="2.25"/><circle cx="43.43" cy="13.51" r="2.25"/><circle cx="45.59" cy="13.51" r="2.25"/><circle cx="47.76" cy="13.51" r="2.25"/><circle cx="49.92" cy="13.51" r="2.25"/><circle cx="52.09" cy="13.51" r="2.25"/><circle cx="54.25" cy="13.51" r="2.25"/><circle cx="56.42" cy="13.51" r="2.25"/><circle cx="58.58" cy="13.51" r="2.25"/><circle cx="60.75" cy="13.51" r="2.25"/><circle cx="62.91" cy="13.51" r="2.25"/><circle cx="65.08" cy="13.51" r="2.25"/><circle cx="67.24" cy="13.51" r="2.25"/><circle cx="69.41" cy="13.51" r="2.25"/><circle cx="71.57" cy="13.51" r="2.25"/><circle cx="73.73" cy="13.51" r="2.25"/><circle cx="75.90" cy="13.51" r="2.25"/><circle cx="78.06" cy="14.19" r="2.25"/><circle cx="80.23" cy="21.00" r="2.25"/><circle cx="82.40" cy="27.68" r="2.25"/><circle cx="84.56" cy="34.23" r="2.25"/><circle cx="86.72" cy="40.66" r="2.25"/><circle cx="88.89" cy="46.97" r="2.25"/><circle cx="91.06" cy="53.15" r="2.25"/><circle cx="93.22" cy="59.23" r="2.25"/><circle cx="95.38" cy="65.18" r="2.25"/><circle cx="97.55" cy="71.03" r="2.25"/><circle cx="99.72" cy="76.77" r="2.25"/><circle cx="101.88" cy="82.39" r="2.25"/><circle cx="104.05" cy="87.92" r="2.25"/><circle cx="106.21" cy="93.33" r="2.25"/><circle cx="108.38" cy="98.65" r="2.25"/><circle cx="110.54" cy="103.87" r="2.25"/><circle cx="112.71" cy="108.99" r="2.25"/><circle cx="114.87" cy="114.01" r="2.25"/><circle cx="117.03" cy="118.93" r="2.25"/><circle cx="119.20" cy="123.77" r="2.25"/><circle cx="121.37" cy="128.51" r="2.25"/><circle cx="123.53" cy="133.17" r="2.25"/><circle cx="125.69" cy="137.73" r="2.25"/><circle cx="127.86" cy="142.21" r="2.25"/><circle cx="130.03" cy="146.61" r="2.25"/><circle cx="132.19" cy="150.92" r="2.25"/><circle cx="134.35" cy="155.15" r="2.25"/><circle cx="136.52" cy="159.31" r="2.25"/><circle cx="138.69" cy="163.38" r="2.25"/><circle cx="140.85" cy="167.38" r="2.25"/><circle cx="143.02" cy="171.30" r="2.25"/><circle cx="145.18" cy="175.15" r="2.25"/><circle cx="147.34" cy="178.93" r="2.25"/><circle cx="149.51" cy="182.63" r="2.25"/><circle cx="151.68" cy="186.27" r="2.25"/><circle cx="153.84" cy="189.84" r="2.25"/><circle cx="156.00" cy="193.34" r="2.25"/><circle cx="158.17" cy="196.77" r="2.25"/><circle cx="160.34" cy="200.14" r="2.25"/><circle cx="162.50" cy="203.45" r="2.25"/><circle cx="164.66" cy="206.69" r="2.25"/><circle cx="166.83" cy="209.87" r="2.25"/><circle cx="169.00" cy="212.99" r="2.25"/><circle cx="171.16" cy="216.06" r="2.25"/><circle cx="173.32" cy="219.07" r="2.25"/><circle cx="175.49" cy="222.02" r="2.25"/><circle cx="177.66" cy="224.91" r="2.25"/><circle cx="179.82" cy="227.75" r="2.25"/><circle cx="181.98" cy="230.54" r="2.25"/><circle cx="184.15" cy="233.27" r="2.25"/><circle cx="186.31" cy="235.95" r="2.25"/><circle cx="188.48" cy="238.58" r="2.25"/><circle cx="190.64" cy="241.17" r="2.25"/><circle cx="192.81" cy="243.70" r="2.25"/><circle cx="194.97" cy="246.19" r="2.25"/><circle cx="197.14" cy="248.63" r="2.25"/><circle cx="199.31" cy="251.02" r="2.25"/><circle cx="201.47" cy="253.37" r="2.25"/><circle cx="203.63" cy="255.67" r="2.25"/><circle cx="205.80" cy="257.93" r="2.25"/><circle cx="207.97" cy="260.15" r="2.25"/><circle cx="210.13" cy="262.33" r="2.25"/><circle cx="212.29" cy="264.46" r="2.25"/><circle cx="214.46" cy="266.56" r="2.25"/><circle cx="216.62" cy="268.62" r="2.25"/><circle cx="218.79" cy="270.63" r="2.25"/><circle cx="220.95" cy="272.61" r="2.25"/><circle cx="223.12" cy="274.55" r="2.25"/><circle cx="225.28" cy="276.46" r="2.25"/><circle cx="227.45" cy="278.33" r="2.25"/><circle cx="229.62" cy="280.16" r="2.25"/><circle cx="231.78" cy="281.96" r="2.25"/><circle cx="233.94" cy="283.73" r="2.25"/><circle cx="236.11" cy="285.46" r="2.25"/><circle cx="238.27" cy="287.16" r="2.25"/><circle cx="240.44" cy="288.83" r="2.25"/><circle cx="242.60" cy="290.47" r="2.25"/><circle cx="244.77" cy="292.07" r="2.25"/><circle cx="246.94" cy="293.65" r="2.25"/><circle cx="249.10" cy="295.20" r="2.25"/></g>
</g>
<rect x="36.30" y="247.40" width="78.6" height="70.6" fill="#fff" stroke="#707070" stroke-width="0.7"/>
<g stroke="#0A72C4" fill="none"><line x1="38.30" y1="253.80" x2="55.70" y2="253.80" stroke-width="1.5"/><circle cx="47.00" cy="253.80" r="2.3" stroke-width="1.4"/></g>
<text transform="translate(57.80,256.20) scale(0.97,1)" text-anchor="start" class="lg">Lr1-constant</text>
<g stroke="#FF5A10" fill="none"><line x1="38.30" y1="263.66" x2="55.70" y2="263.66" stroke-width="1.5"/><circle cx="47.00" cy="263.66" r="2.3" stroke-width="1.4"/></g>
<text transform="translate(57.80,266.06) scale(0.97,1)" text-anchor="start" class="lg">Lr2-itrDecay</text>
<g stroke="#FFB000" fill="none"><line x1="38.30" y1="273.52" x2="55.70" y2="273.52" stroke-width="1.5"/><circle cx="47.00" cy="273.52" r="2.3" stroke-width="1.4"/></g>
<text transform="translate(57.80,275.92) scale(0.97,1)" text-anchor="start" class="lg">Lr3-expDecay</text>
<g stroke="#9A2CB0" fill="none"><line x1="38.30" y1="283.38" x2="55.70" y2="283.38" stroke-width="1.5"/><circle cx="47.00" cy="283.38" r="2.3" stroke-width="1.4"/></g>
<text transform="translate(57.80,285.78) scale(0.97,1)" text-anchor="start" class="lg">Lr4-stepDecay</text>
<g stroke="#5DB11E" fill="none"><line x1="38.30" y1="293.24" x2="55.70" y2="293.24" stroke-width="1.5"/><circle cx="47.00" cy="293.24" r="2.3" stroke-width="1.4"/></g>
<text transform="translate(57.80,295.64) scale(0.97,1)" text-anchor="start" class="lg">Lr5-lossRescale</text>
<g stroke="#1CB6F0" fill="none"><line x1="38.30" y1="303.10" x2="55.70" y2="303.10" stroke-width="1.5"/><circle cx="47.00" cy="303.10" r="2.3" stroke-width="1.4"/></g>
<text transform="translate(57.80,305.50) scale(0.97,1)" text-anchor="start" class="lg">Lr6-lossCos</text>
<g stroke="#C8102E" fill="none"><line x1="38.30" y1="312.96" x2="55.70" y2="312.96" stroke-width="1.5"/><circle cx="47.00" cy="312.96" r="2.3" stroke-width="1.4"/></g>
<text transform="translate(57.80,315.36) scale(0.97,1)" text-anchor="start" class="lg">Lr7-lossProb</text>
<line x1="317.80" y1="12.15" x2="317.80" y2="330.15" stroke="#e2e2e2" stroke-width="0.7"/>
<line x1="361.04" y1="12.15" x2="361.04" y2="330.15" stroke="#e2e2e2" stroke-width="0.7"/>
<line x1="404.28" y1="12.15" x2="404.28" y2="330.15" stroke="#e2e2e2" stroke-width="0.7"/>
<line x1="447.52" y1="12.15" x2="447.52" y2="330.15" stroke="#e2e2e2" stroke-width="0.7"/>
<line x1="490.76" y1="12.15" x2="490.76" y2="330.15" stroke="#e2e2e2" stroke-width="0.7"/>
<line x1="534.00" y1="12.15" x2="534.00" y2="330.15" stroke="#e2e2e2" stroke-width="0.7"/>
<line x1="317.80" y1="330.15" x2="534.00" y2="330.15" stroke="#e2e2e2" stroke-width="0.7"/>
<line x1="317.80" y1="298.35" x2="534.00" y2="298.35" stroke="#e2e2e2" stroke-width="0.7"/>
<line x1="317.80" y1="266.55" x2="534.00" y2="266.55" stroke="#e2e2e2" stroke-width="0.7"/>
<line x1="317.80" y1="234.75" x2="534.00" y2="234.75" stroke="#e2e2e2" stroke-width="0.7"/>
<line x1="317.80" y1="202.95" x2="534.00" y2="202.95" stroke="#e2e2e2" stroke-width="0.7"/>
<line x1="317.80" y1="171.15" x2="534.00" y2="171.15" stroke="#e2e2e2" stroke-width="0.7"/>
<line x1="317.80" y1="139.35" x2="534.00" y2="139.35" stroke="#e2e2e2" stroke-width="0.7"/>
<line x1="317.80" y1="107.55" x2="534.00" y2="107.55" stroke="#e2e2e2" stroke-width="0.7"/>
<line x1="317.80" y1="75.75" x2="534.00" y2="75.75" stroke="#e2e2e2" stroke-width="0.7"/>
<line x1="317.80" y1="43.95" x2="534.00" y2="43.95" stroke="#e2e2e2" stroke-width="0.7"/>
<line x1="317.80" y1="12.15" x2="534.00" y2="12.15" stroke="#e2e2e2" stroke-width="0.7"/>
<rect x="317.80" y="12.15" width="216.20" height="318.00" fill="none" stroke="#707070" stroke-width="0.8"/>
<line x1="317.80" y1="330.15" x2="317.80" y2="327.95" stroke="#707070" stroke-width="0.7"/>
<line x1="317.80" y1="12.15" x2="317.80" y2="14.35" stroke="#707070" stroke-width="0.7"/>
<text transform="translate(317.80,340.65) scale(0.92,1)" text-anchor="middle" class="tk">0</text>
<line x1="361.04" y1="330.15" x2="361.04" y2="327.95" stroke="#707070" stroke-width="0.7"/>
<line x1="361.04" y1="12.15" x2="361.04" y2="14.35" stroke="#707070" stroke-width="0.7"/>
<text transform="translate(361.04,340.65) scale(0.92,1)" text-anchor="middle" class="tk">20</text>
<line x1="404.28" y1="330.15" x2="404.28" y2="327.95" stroke="#707070" stroke-width="0.7"/>
<line x1="404.28" y1="12.15" x2="404.28" y2="14.35" stroke="#707070" stroke-width="0.7"/>
<text transform="translate(404.28,340.65) scale(0.92,1)" text-anchor="middle" class="tk">40</text>
<line x1="447.52" y1="330.15" x2="447.52" y2="327.95" stroke="#707070" stroke-width="0.7"/>
<line x1="447.52" y1="12.15" x2="447.52" y2="14.35" stroke="#707070" stroke-width="0.7"/>
<text transform="translate(447.52,340.65) scale(0.92,1)" text-anchor="middle" class="tk">60</text>
<line x1="490.76" y1="330.15" x2="490.76" y2="327.95" stroke="#707070" stroke-width="0.7"/>
<line x1="490.76" y1="12.15" x2="490.76" y2="14.35" stroke="#707070" stroke-width="0.7"/>
<text transform="translate(490.76,340.65) scale(0.92,1)" text-anchor="middle" class="tk">80</text>
<line x1="534.00" y1="330.15" x2="534.00" y2="327.95" stroke="#707070" stroke-width="0.7"/>
<line x1="534.00" y1="12.15" x2="534.00" y2="14.35" stroke="#707070" stroke-width="0.7"/>
<text transform="translate(534.00,340.65) scale(0.92,1)" text-anchor="middle" class="tk">100</text>
<line x1="317.80" y1="330.15" x2="320.00" y2="330.15" stroke="#707070" stroke-width="0.7"/>
<line x1="534.00" y1="330.15" x2="531.80" y2="330.15" stroke="#707070" stroke-width="0.7"/>
<text transform="translate(314.60,333.25) scale(0.92,1)" text-anchor="end" class="tk">0</text>
<line x1="317.80" y1="298.35" x2="320.00" y2="298.35" stroke="#707070" stroke-width="0.7"/>
<line x1="534.00" y1="298.35" x2="531.80" y2="298.35" stroke="#707070" stroke-width="0.7"/>
<text transform="translate(314.60,301.45) scale(0.92,1)" text-anchor="end" class="tk">0.001</text>
<line x1="317.80" y1="266.55" x2="320.00" y2="266.55" stroke="#707070" stroke-width="0.7"/>
<line x1="534.00" y1="266.55" x2="531.80" y2="266.55" stroke="#707070" stroke-width="0.7"/>
<text transform="translate(314.60,269.65) scale(0.92,1)" text-anchor="end" class="tk">0.002</text>
<line x1="317.80" y1="234.75" x2="320.00" y2="234.75" stroke="#707070" stroke-width="0.7"/>
<line x1="534.00" y1="234.75" x2="531.80" y2="234.75" stroke="#707070" stroke-width="0.7"/>
<text transform="translate(314.60,237.85) scale(0.92,1)" text-anchor="end" class="tk">0.003</text>
<line x1="317.80" y1="202.95" x2="320.00" y2="202.95" stroke="#707070" stroke-width="0.7"/>
<line x1="534.00" y1="202.95" x2="531.80" y2="202.95" stroke="#707070" stroke-width="0.7"/>
<text transform="translate(314.60,206.05) scale(0.92,1)" text-anchor="end" class="tk">0.004</text>
<line x1="317.80" y1="171.15" x2="320.00" y2="171.15" stroke="#707070" stroke-width="0.7"/>
<line x1="534.00" y1="171.15" x2="531.80" y2="171.15" stroke="#707070" stroke-width="0.7"/>
<text transform="translate(314.60,174.25) scale(0.92,1)" text-anchor="end" class="tk">0.005</text>
<line x1="317.80" y1="139.35" x2="320.00" y2="139.35" stroke="#707070" stroke-width="0.7"/>
<line x1="534.00" y1="139.35" x2="531.80" y2="139.35" stroke="#707070" stroke-width="0.7"/>
<text transform="translate(314.60,142.45) scale(0.92,1)" text-anchor="end" class="tk">0.006</text>
<line x1="317.80" y1="107.55" x2="320.00" y2="107.55" stroke="#707070" stroke-width="0.7"/>
<line x1="534.00" y1="107.55" x2="531.80" y2="107.55" stroke="#707070" stroke-width="0.7"/>
<text transform="translate(314.60,110.65) scale(0.92,1)" text-anchor="end" class="tk">0.007</text>
<line x1="317.80" y1="75.75" x2="320.00" y2="75.75" stroke="#707070" stroke-width="0.7"/>
<line x1="534.00" y1="75.75" x2="531.80" y2="75.75" stroke="#707070" stroke-width="0.7"/>
<text transform="translate(314.60,78.85) scale(0.92,1)" text-anchor="end" class="tk">0.008</text>
<line x1="317.80" y1="43.95" x2="320.00" y2="43.95" stroke="#707070" stroke-width="0.7"/>
<line x1="534.00" y1="43.95" x2="531.80" y2="43.95" stroke="#707070" stroke-width="0.7"/>
<text transform="translate(314.60,47.05) scale(0.92,1)" text-anchor="end" class="tk">0.009</text>
<line x1="317.80" y1="12.15" x2="320.00" y2="12.15" stroke="#707070" stroke-width="0.7"/>
<line x1="534.00" y1="12.15" x2="531.80" y2="12.15" stroke="#707070" stroke-width="0.7"/>
<text transform="translate(314.60,15.25) scale(0.92,1)" text-anchor="end" class="tk">0.01</text>
<text transform="translate(426.50,351.15)" text-anchor="middle" class="lb">Iteration</text>
<text transform="translate(291.00,171.15) rotate(-90)" text-anchor="middle" class="lb lb2">Step Size <tspan class="al" dy="1.3">α</tspan></text>
<g stroke="#0A72C4" fill="none">
<polyline stroke-width="1.3" stroke-linejoin="round" points="317.80,330.15 319.96,12.15 322.12,12.15 324.29,12.15 326.45,12.15 328.61,12.15 330.77,12.15 332.93,12.15 335.10,12.15 337.26,12.15 339.42,12.15 341.58,12.15 343.74,12.15 345.91,12.15 348.07,12.15 350.23,12.15 352.39,12.15 354.55,12.15 356.72,12.15 358.88,12.15 361.04,12.15 363.20,12.15 365.36,12.15 367.53,12.15 369.69,12.15 371.85,12.15 374.01,12.15 376.17,12.15 378.34,12.15 380.50,12.15 382.66,12.15 384.82,12.15 386.98,12.15 389.15,12.15 391.31,12.15 393.47,12.15 395.63,12.15 397.79,12.15 399.96,12.15 402.12,12.15 404.28,12.15 406.44,12.15 408.60,12.15 410.77,12.15 412.93,12.15 415.09,12.15 417.25,12.15 419.41,12.15 421.58,12.15 423.74,12.15 425.90,12.15 428.06,12.15 430.22,12.15 432.39,12.15 434.55,12.15 436.71,12.15 438.87,12.15 441.03,12.15 443.20,12.15 445.36,12.15 447.52,12.15 449.68,12.15 451.84,12.15 454.01,12.15 456.17,12.15 458.33,12.15 460.49,12.15 462.65,12.15 464.82,12.15 466.98,12.15 469.14,12.15 471.30,12.15 473.46,12.15 475.63,12.15 477.79,12.15 479.95,12.15 482.11,12.15 484.27,12.15 486.44,12.15 488.60,12.15 490.76,12.15 492.92,12.15 495.08,12.15 497.25,12.15 499.41,12.15 501.57,12.15 503.73,12.15 505.89,12.15 508.06,12.15 510.22,12.15 512.38,12.15 514.54,12.15 516.70,12.15 518.87,12.15 521.03,12.15 523.19,12.15 525.35,12.15 527.51,12.15 529.68,12.15 531.84,12.15 534.00,12.15"/>
<g stroke-width="1.22"><circle cx="317.80" cy="330.15" r="2.25"/><circle cx="319.96" cy="12.15" r="2.25"/><circle cx="322.12" cy="12.15" r="2.25"/><circle cx="324.29" cy="12.15" r="2.25"/><circle cx="326.45" cy="12.15" r="2.25"/><circle cx="328.61" cy="12.15" r="2.25"/><circle cx="330.77" cy="12.15" r="2.25"/><circle cx="332.93" cy="12.15" r="2.25"/><circle cx="335.10" cy="12.15" r="2.25"/><circle cx="337.26" cy="12.15" r="2.25"/><circle cx="339.42" cy="12.15" r="2.25"/><circle cx="341.58" cy="12.15" r="2.25"/><circle cx="343.74" cy="12.15" r="2.25"/><circle cx="345.91" cy="12.15" r="2.25"/><circle cx="348.07" cy="12.15" r="2.25"/><circle cx="350.23" cy="12.15" r="2.25"/><circle cx="352.39" cy="12.15" r="2.25"/><circle cx="354.55" cy="12.15" r="2.25"/><circle cx="356.72" cy="12.15" r="2.25"/><circle cx="358.88" cy="12.15" r="2.25"/><circle cx="361.04" cy="12.15" r="2.25"/><circle cx="363.20" cy="12.15" r="2.25"/><circle cx="365.36" cy="12.15" r="2.25"/><circle cx="367.53" cy="12.15" r="2.25"/><circle cx="369.69" cy="12.15" r="2.25"/><circle cx="371.85" cy="12.15" r="2.25"/><circle cx="374.01" cy="12.15" r="2.25"/><circle cx="376.17" cy="12.15" r="2.25"/><circle cx="378.34" cy="12.15" r="2.25"/><circle cx="380.50" cy="12.15" r="2.25"/><circle cx="382.66" cy="12.15" r="2.25"/><circle cx="384.82" cy="12.15" r="2.25"/><circle cx="386.98" cy="12.15" r="2.25"/><circle cx="389.15" cy="12.15" r="2.25"/><circle cx="391.31" cy="12.15" r="2.25"/><circle cx="393.47" cy="12.15" r="2.25"/><circle cx="395.63" cy="12.15" r="2.25"/><circle cx="397.79" cy="12.15" r="2.25"/><circle cx="399.96" cy="12.15" r="2.25"/><circle cx="402.12" cy="12.15" r="2.25"/><circle cx="404.28" cy="12.15" r="2.25"/><circle cx="406.44" cy="12.15" r="2.25"/><circle cx="408.60" cy="12.15" r="2.25"/><circle cx="410.77" cy="12.15" r="2.25"/><circle cx="412.93" cy="12.15" r="2.25"/><circle cx="415.09" cy="12.15" r="2.25"/><circle cx="417.25" cy="12.15" r="2.25"/><circle cx="419.41" cy="12.15" r="2.25"/><circle cx="421.58" cy="12.15" r="2.25"/><circle cx="423.74" cy="12.15" r="2.25"/><circle cx="425.90" cy="12.15" r="2.25"/><circle cx="428.06" cy="12.15" r="2.25"/><circle cx="430.22" cy="12.15" r="2.25"/><circle cx="432.39" cy="12.15" r="2.25"/><circle cx="434.55" cy="12.15" r="2.25"/><circle cx="436.71" cy="12.15" r="2.25"/><circle cx="438.87" cy="12.15" r="2.25"/><circle cx="441.03" cy="12.15" r="2.25"/><circle cx="443.20" cy="12.15" r="2.25"/><circle cx="445.36" cy="12.15" r="2.25"/><circle cx="447.52" cy="12.15" r="2.25"/><circle cx="449.68" cy="12.15" r="2.25"/><circle cx="451.84" cy="12.15" r="2.25"/><circle cx="454.01" cy="12.15" r="2.25"/><circle cx="456.17" cy="12.15" r="2.25"/><circle cx="458.33" cy="12.15" r="2.25"/><circle cx="460.49" cy="12.15" r="2.25"/><circle cx="462.65" cy="12.15" r="2.25"/><circle cx="464.82" cy="12.15" r="2.25"/><circle cx="466.98" cy="12.15" r="2.25"/><circle cx="469.14" cy="12.15" r="2.25"/><circle cx="471.30" cy="12.15" r="2.25"/><circle cx="473.46" cy="12.15" r="2.25"/><circle cx="475.63" cy="12.15" r="2.25"/><circle cx="477.79" cy="12.15" r="2.25"/><circle cx="479.95" cy="12.15" r="2.25"/><circle cx="482.11" cy="12.15" r="2.25"/><circle cx="484.27" cy="12.15" r="2.25"/><circle cx="486.44" cy="12.15" r="2.25"/><circle cx="488.60" cy="12.15" r="2.25"/><circle cx="490.76" cy="12.15" r="2.25"/><circle cx="492.92" cy="12.15" r="2.25"/><circle cx="495.08" cy="12.15" r="2.25"/><circle cx="497.25" cy="12.15" r="2.25"/><circle cx="499.41" cy="12.15" r="2.25"/><circle cx="501.57" cy="12.15" r="2.25"/><circle cx="503.73" cy="12.15" r="2.25"/><circle cx="505.89" cy="12.15" r="2.25"/><circle cx="508.06" cy="12.15" r="2.25"/><circle cx="510.22" cy="12.15" r="2.25"/><circle cx="512.38" cy="12.15" r="2.25"/><circle cx="514.54" cy="12.15" r="2.25"/><circle cx="516.70" cy="12.15" r="2.25"/><circle cx="518.87" cy="12.15" r="2.25"/><circle cx="521.03" cy="12.15" r="2.25"/><circle cx="523.19" cy="12.15" r="2.25"/><circle cx="525.35" cy="12.15" r="2.25"/><circle cx="527.51" cy="12.15" r="2.25"/><circle cx="529.68" cy="12.15" r="2.25"/><circle cx="531.84" cy="12.15" r="2.25"/><circle cx="534.00" cy="12.15" r="2.25"/></g>
</g>
<g stroke="#FF5A10" fill="none">
<polyline stroke-width="1.3" stroke-linejoin="round" points="317.80,330.15 319.96,12.15 322.12,118.15 324.29,171.15 326.45,202.95 328.61,224.15 330.77,239.29 332.93,250.65 335.10,259.48 337.26,266.55 339.42,272.33 341.58,277.15 343.74,281.23 345.91,284.72 348.07,287.75 350.23,290.40 352.39,292.74 354.55,294.82 356.72,296.68 358.88,298.35 361.04,299.86 363.20,301.24 365.36,302.50 367.53,303.65 369.69,304.71 371.85,305.69 374.01,306.59 376.17,307.44 378.34,308.22 380.50,308.95 382.66,309.63 384.82,310.27 386.98,310.88 389.15,311.44 391.31,311.98 393.47,312.48 395.63,312.96 397.79,313.41 399.96,313.84 402.12,314.25 404.28,314.64 406.44,315.01 408.60,315.36 410.77,315.70 412.93,316.02 415.09,316.32 417.25,316.62 419.41,316.90 421.58,317.17 423.74,317.43 425.90,317.68 428.06,317.92 430.22,318.15 432.39,318.37 434.55,318.59 436.71,318.79 438.87,318.99 441.03,319.18 443.20,319.37 445.36,319.55 447.52,319.72 449.68,319.89 451.84,320.05 454.01,320.21 456.17,320.37 458.33,320.51 460.49,320.66 462.65,320.80 464.82,320.93 466.98,321.06 469.14,321.19 471.30,321.32 473.46,321.44 475.63,321.56 477.79,321.67 479.95,321.78 482.11,321.89 484.27,322.00 486.44,322.10 488.60,322.20 490.76,322.30 492.92,322.39 495.08,322.49 497.25,322.58 499.41,322.67 501.57,322.75 503.73,322.84 505.89,322.92 508.06,323.00 510.22,323.08 512.38,323.16 514.54,323.24 516.70,323.31 518.87,323.38 521.03,323.46 523.19,323.52 525.35,323.59 527.51,323.66 529.68,323.73 531.84,323.79 534.00,323.85"/>
<g stroke-width="1.22"><circle cx="317.80" cy="330.15" r="2.25"/><circle cx="319.96" cy="12.15" r="2.25"/><circle cx="322.12" cy="118.15" r="2.25"/><circle cx="324.29" cy="171.15" r="2.25"/><circle cx="326.45" cy="202.95" r="2.25"/><circle cx="328.61" cy="224.15" r="2.25"/><circle cx="330.77" cy="239.29" r="2.25"/><circle cx="332.93" cy="250.65" r="2.25"/><circle cx="335.10" cy="259.48" r="2.25"/><circle cx="337.26" cy="266.55" r="2.25"/><circle cx="339.42" cy="272.33" r="2.25"/><circle cx="341.58" cy="277.15" r="2.25"/><circle cx="343.74" cy="281.23" r="2.25"/><circle cx="345.91" cy="284.72" r="2.25"/><circle cx="348.07" cy="287.75" r="2.25"/><circle cx="350.23" cy="290.40" r="2.25"/><circle cx="352.39" cy="292.74" r="2.25"/><circle cx="354.55" cy="294.82" r="2.25"/><circle cx="356.72" cy="296.68" r="2.25"/><circle cx="358.88" cy="298.35" r="2.25"/><circle cx="361.04" cy="299.86" r="2.25"/><circle cx="363.20" cy="301.24" r="2.25"/><circle cx="365.36" cy="302.50" r="2.25"/><circle cx="367.53" cy="303.65" r="2.25"/><circle cx="369.69" cy="304.71" r="2.25"/><circle cx="371.85" cy="305.69" r="2.25"/><circle cx="374.01" cy="306.59" r="2.25"/><circle cx="376.17" cy="307.44" r="2.25"/><circle cx="378.34" cy="308.22" r="2.25"/><circle cx="380.50" cy="308.95" r="2.25"/><circle cx="382.66" cy="309.63" r="2.25"/><circle cx="384.82" cy="310.27" r="2.25"/><circle cx="386.98" cy="310.88" r="2.25"/><circle cx="389.15" cy="311.44" r="2.25"/><circle cx="391.31" cy="311.98" r="2.25"/><circle cx="393.47" cy="312.48" r="2.25"/><circle cx="395.63" cy="312.96" r="2.25"/><circle cx="397.79" cy="313.41" r="2.25"/><circle cx="399.96" cy="313.84" r="2.25"/><circle cx="402.12" cy="314.25" r="2.25"/><circle cx="404.28" cy="314.64" r="2.25"/><circle cx="406.44" cy="315.01" r="2.25"/><circle cx="408.60" cy="315.36" r="2.25"/><circle cx="410.77" cy="315.70" r="2.25"/><circle cx="412.93" cy="316.02" r="2.25"/><circle cx="415.09" cy="316.32" r="2.25"/><circle cx="417.25" cy="316.62" r="2.25"/><circle cx="419.41" cy="316.90" r="2.25"/><circle cx="421.58" cy="317.17" r="2.25"/><circle cx="423.74" cy="317.43" r="2.25"/><circle cx="425.90" cy="317.68" r="2.25"/><circle cx="428.06" cy="317.92" r="2.25"/><circle cx="430.22" cy="318.15" r="2.25"/><circle cx="432.39" cy="318.37" r="2.25"/><circle cx="434.55" cy="318.59" r="2.25"/><circle cx="436.71" cy="318.79" r="2.25"/><circle cx="438.87" cy="318.99" r="2.25"/><circle cx="441.03" cy="319.18" r="2.25"/><circle cx="443.20" cy="319.37" r="2.25"/><circle cx="445.36" cy="319.55" r="2.25"/><circle cx="447.52" cy="319.72" r="2.25"/><circle cx="449.68" cy="319.89" r="2.25"/><circle cx="451.84" cy="320.05" r="2.25"/><circle cx="454.01" cy="320.21" r="2.25"/><circle cx="456.17" cy="320.37" r="2.25"/><circle cx="458.33" cy="320.51" r="2.25"/><circle cx="460.49" cy="320.66" r="2.25"/><circle cx="462.65" cy="320.80" r="2.25"/><circle cx="464.82" cy="320.93" r="2.25"/><circle cx="466.98" cy="321.06" r="2.25"/><circle cx="469.14" cy="321.19" r="2.25"/><circle cx="471.30" cy="321.32" r="2.25"/><circle cx="473.46" cy="321.44" r="2.25"/><circle cx="475.63" cy="321.56" r="2.25"/><circle cx="477.79" cy="321.67" r="2.25"/><circle cx="479.95" cy="321.78" r="2.25"/><circle cx="482.11" cy="321.89" r="2.25"/><circle cx="484.27" cy="322.00" r="2.25"/><circle cx="486.44" cy="322.10" r="2.25"/><circle cx="488.60" cy="322.20" r="2.25"/><circle cx="490.76" cy="322.30" r="2.25"/><circle cx="492.92" cy="322.39" r="2.25"/><circle cx="495.08" cy="322.49" r="2.25"/><circle cx="497.25" cy="322.58" r="2.25"/><circle cx="499.41" cy="322.67" r="2.25"/><circle cx="501.57" cy="322.75" r="2.25"/><circle cx="503.73" cy="322.84" r="2.25"/><circle cx="505.89" cy="322.92" r="2.25"/><circle cx="508.06" cy="323.00" r="2.25"/><circle cx="510.22" cy="323.08" r="2.25"/><circle cx="512.38" cy="323.16" r="2.25"/><circle cx="514.54" cy="323.24" r="2.25"/><circle cx="516.70" cy="323.31" r="2.25"/><circle cx="518.87" cy="323.38" r="2.25"/><circle cx="521.03" cy="323.46" r="2.25"/><circle cx="523.19" cy="323.52" r="2.25"/><circle cx="525.35" cy="323.59" r="2.25"/><circle cx="527.51" cy="323.66" r="2.25"/><circle cx="529.68" cy="323.73" r="2.25"/><circle cx="531.84" cy="323.79" r="2.25"/><circle cx="534.00" cy="323.85" r="2.25"/></g>
</g>
<g stroke="#FFB000" fill="none">
<polyline stroke-width="1.3" stroke-linejoin="round" points="317.80,330.15 319.96,12.15 322.12,137.27 324.29,213.16 326.45,259.19 328.61,287.11 330.77,304.05 332.93,314.32 335.10,320.55 337.26,324.33 339.42,326.62 341.58,328.01 343.74,328.85 345.91,329.36 348.07,329.67 350.23,329.86 352.39,329.97 354.55,330.04 356.72,330.09 358.88,330.11 361.04,330.13 363.20,330.14 365.36,330.14 367.53,330.14 369.69,330.15 371.85,330.15 374.01,330.15 376.17,330.15 378.34,330.15 380.50,330.15 382.66,330.15 384.82,330.15 386.98,330.15 389.15,330.15 391.31,330.15 393.47,330.15 395.63,330.15 397.79,330.15 399.96,330.15 402.12,330.15 404.28,330.15 406.44,330.15 408.60,330.15 410.77,330.15 412.93,330.15 415.09,330.15 417.25,330.15 419.41,330.15 421.58,330.15 423.74,330.15 425.90,330.15 428.06,330.15 430.22,330.15 432.39,330.15 434.55,330.15 436.71,330.15 438.87,330.15 441.03,330.15 443.20,330.15 445.36,330.15 447.52,330.15 449.68,330.15 451.84,330.15 454.01,330.15 456.17,330.15 458.33,330.15 460.49,330.15 462.65,330.15 464.82,330.15 466.98,330.15 469.14,330.15 471.30,330.15 473.46,330.15 475.63,330.15 477.79,330.15 479.95,330.15 482.11,330.15 484.27,330.15 486.44,330.15 488.60,330.15 490.76,330.15 492.92,330.15 495.08,330.15 497.25,330.15 499.41,330.15 501.57,330.15 503.73,330.15 505.89,330.15 508.06,330.15 510.22,330.15 512.38,330.15 514.54,330.15 516.70,330.15 518.87,330.15 521.03,330.15 523.19,330.15 525.35,330.15 527.51,330.15 529.68,330.15 531.84,330.15 534.00,330.15"/>
<g stroke-width="1.22"><circle cx="317.80" cy="330.15" r="2.25"/><circle cx="319.96" cy="12.15" r="2.25"/><circle cx="322.12" cy="137.27" r="2.25"/><circle cx="324.29" cy="213.16" r="2.25"/><circle cx="326.45" cy="259.19" r="2.25"/><circle cx="328.61" cy="287.11" r="2.25"/><circle cx="330.77" cy="304.05" r="2.25"/><circle cx="332.93" cy="314.32" r="2.25"/><circle cx="335.10" cy="320.55" r="2.25"/><circle cx="337.26" cy="324.33" r="2.25"/><circle cx="339.42" cy="326.62" r="2.25"/><circle cx="341.58" cy="328.01" r="2.25"/><circle cx="343.74" cy="328.85" r="2.25"/><circle cx="345.91" cy="329.36" r="2.25"/><circle cx="348.07" cy="329.67" r="2.25"/><circle cx="350.23" cy="329.86" r="2.25"/><circle cx="352.39" cy="329.97" r="2.25"/><circle cx="354.55" cy="330.04" r="2.25"/><circle cx="356.72" cy="330.09" r="2.25"/><circle cx="358.88" cy="330.11" r="2.25"/><circle cx="361.04" cy="330.13" r="2.25"/><circle cx="363.20" cy="330.14" r="2.25"/><circle cx="365.36" cy="330.14" r="2.25"/><circle cx="367.53" cy="330.14" r="2.25"/><circle cx="369.69" cy="330.15" r="2.25"/><circle cx="371.85" cy="330.15" r="2.25"/><circle cx="374.01" cy="330.15" r="2.25"/><circle cx="376.17" cy="330.15" r="2.25"/><circle cx="378.34" cy="330.15" r="2.25"/><circle cx="380.50" cy="330.15" r="2.25"/><circle cx="382.66" cy="330.15" r="2.25"/><circle cx="384.82" cy="330.15" r="2.25"/><circle cx="386.98" cy="330.15" r="2.25"/><circle cx="389.15" cy="330.15" r="2.25"/><circle cx="391.31" cy="330.15" r="2.25"/><circle cx="393.47" cy="330.15" r="2.25"/><circle cx="395.63" cy="330.15" r="2.25"/><circle cx="397.79" cy="330.15" r="2.25"/><circle cx="399.96" cy="330.15" r="2.25"/><circle cx="402.12" cy="330.15" r="2.25"/><circle cx="404.28" cy="330.15" r="2.25"/><circle cx="406.44" cy="330.15" r="2.25"/><circle cx="408.60" cy="330.15" r="2.25"/><circle cx="410.77" cy="330.15" r="2.25"/><circle cx="412.93" cy="330.15" r="2.25"/><circle cx="415.09" cy="330.15" r="2.25"/><circle cx="417.25" cy="330.15" r="2.25"/><circle cx="419.41" cy="330.15" r="2.25"/><circle cx="421.58" cy="330.15" r="2.25"/><circle cx="423.74" cy="330.15" r="2.25"/><circle cx="425.90" cy="330.15" r="2.25"/><circle cx="428.06" cy="330.15" r="2.25"/><circle cx="430.22" cy="330.15" r="2.25"/><circle cx="432.39" cy="330.15" r="2.25"/><circle cx="434.55" cy="330.15" r="2.25"/><circle cx="436.71" cy="330.15" r="2.25"/><circle cx="438.87" cy="330.15" r="2.25"/><circle cx="441.03" cy="330.15" r="2.25"/><circle cx="443.20" cy="330.15" r="2.25"/><circle cx="445.36" cy="330.15" r="2.25"/><circle cx="447.52" cy="330.15" r="2.25"/><circle cx="449.68" cy="330.15" r="2.25"/><circle cx="451.84" cy="330.15" r="2.25"/><circle cx="454.01" cy="330.15" r="2.25"/><circle cx="456.17" cy="330.15" r="2.25"/><circle cx="458.33" cy="330.15" r="2.25"/><circle cx="460.49" cy="330.15" r="2.25"/><circle cx="462.65" cy="330.15" r="2.25"/><circle cx="464.82" cy="330.15" r="2.25"/><circle cx="466.98" cy="330.15" r="2.25"/><circle cx="469.14" cy="330.15" r="2.25"/><circle cx="471.30" cy="330.15" r="2.25"/><circle cx="473.46" cy="330.15" r="2.25"/><circle cx="475.63" cy="330.15" r="2.25"/><circle cx="477.79" cy="330.15" r="2.25"/><circle cx="479.95" cy="330.15" r="2.25"/><circle cx="482.11" cy="330.15" r="2.25"/><circle cx="484.27" cy="330.15" r="2.25"/><circle cx="486.44" cy="330.15" r="2.25"/><circle cx="488.60" cy="330.15" r="2.25"/><circle cx="490.76" cy="330.15" r="2.25"/><circle cx="492.92" cy="330.15" r="2.25"/><circle cx="495.08" cy="330.15" r="2.25"/><circle cx="497.25" cy="330.15" r="2.25"/><circle cx="499.41" cy="330.15" r="2.25"/><circle cx="501.57" cy="330.15" r="2.25"/><circle cx="503.73" cy="330.15" r="2.25"/><circle cx="505.89" cy="330.15" r="2.25"/><circle cx="508.06" cy="330.15" r="2.25"/><circle cx="510.22" cy="330.15" r="2.25"/><circle cx="512.38" cy="330.15" r="2.25"/><circle cx="514.54" cy="330.15" r="2.25"/><circle cx="516.70" cy="330.15" r="2.25"/><circle cx="518.87" cy="330.15" r="2.25"/><circle cx="521.03" cy="330.15" r="2.25"/><circle cx="523.19" cy="330.15" r="2.25"/><circle cx="525.35" cy="330.15" r="2.25"/><circle cx="527.51" cy="330.15" r="2.25"/><circle cx="529.68" cy="330.15" r="2.25"/><circle cx="531.84" cy="330.15" r="2.25"/><circle cx="534.00" cy="330.15" r="2.25"/></g>
</g>
<g stroke="#9A2CB0" fill="none">
<polyline stroke-width="1.3" stroke-linejoin="round" points="317.80,330.15 319.96,12.15 322.12,171.15 324.29,250.65 326.45,290.40 328.61,310.27 330.77,320.21 332.93,325.18 335.10,327.67 337.26,328.91 339.42,329.53 341.58,329.84 343.74,329.99 345.91,330.07 348.07,330.11 350.23,330.13 352.39,330.14 354.55,330.15 356.72,330.15 358.88,330.15 361.04,330.15 363.20,330.15 365.36,330.15 367.53,330.15 369.69,330.15 371.85,330.15 374.01,330.15 376.17,330.15 378.34,330.15 380.50,330.15 382.66,330.15 384.82,330.15 386.98,330.15 389.15,330.15 391.31,330.15 393.47,330.15 395.63,330.15 397.79,330.15 399.96,330.15 402.12,330.15 404.28,330.15 406.44,330.15 408.60,330.15 410.77,330.15 412.93,330.15 415.09,330.15 417.25,330.15 419.41,330.15 421.58,330.15 423.74,330.15 425.90,330.15 428.06,330.15 430.22,330.15 432.39,330.15 434.55,330.15 436.71,330.15 438.87,330.15 441.03,330.15 443.20,330.15 445.36,330.15 447.52,330.15 449.68,330.15 451.84,330.15 454.01,330.15 456.17,330.15 458.33,330.15 460.49,330.15 462.65,330.15 464.82,330.15 466.98,330.15 469.14,330.15 471.30,330.15 473.46,330.15 475.63,330.15 477.79,330.15 479.95,330.15 482.11,330.15 484.27,330.15 486.44,330.15 488.60,330.15 490.76,330.15 492.92,330.15 495.08,330.15 497.25,330.15 499.41,330.15 501.57,330.15 503.73,330.15 505.89,330.15 508.06,330.15 510.22,330.15 512.38,330.15 514.54,330.15 516.70,330.15 518.87,330.15 521.03,330.15 523.19,330.15 525.35,330.15 527.51,330.15 529.68,330.15 531.84,330.15 534.00,330.15"/>
<g stroke-width="1.22"><circle cx="317.80" cy="330.15" r="2.25"/><circle cx="319.96" cy="12.15" r="2.25"/><circle cx="322.12" cy="171.15" r="2.25"/><circle cx="324.29" cy="250.65" r="2.25"/><circle cx="326.45" cy="290.40" r="2.25"/><circle cx="328.61" cy="310.27" r="2.25"/><circle cx="330.77" cy="320.21" r="2.25"/><circle cx="332.93" cy="325.18" r="2.25"/><circle cx="335.10" cy="327.67" r="2.25"/><circle cx="337.26" cy="328.91" r="2.25"/><circle cx="339.42" cy="329.53" r="2.25"/><circle cx="341.58" cy="329.84" r="2.25"/><circle cx="343.74" cy="329.99" r="2.25"/><circle cx="345.91" cy="330.07" r="2.25"/><circle cx="348.07" cy="330.11" r="2.25"/><circle cx="350.23" cy="330.13" r="2.25"/><circle cx="352.39" cy="330.14" r="2.25"/><circle cx="354.55" cy="330.15" r="2.25"/><circle cx="356.72" cy="330.15" r="2.25"/><circle cx="358.88" cy="330.15" r="2.25"/><circle cx="361.04" cy="330.15" r="2.25"/><circle cx="363.20" cy="330.15" r="2.25"/><circle cx="365.36" cy="330.15" r="2.25"/><circle cx="367.53" cy="330.15" r="2.25"/><circle cx="369.69" cy="330.15" r="2.25"/><circle cx="371.85" cy="330.15" r="2.25"/><circle cx="374.01" cy="330.15" r="2.25"/><circle cx="376.17" cy="330.15" r="2.25"/><circle cx="378.34" cy="330.15" r="2.25"/><circle cx="380.50" cy="330.15" r="2.25"/><circle cx="382.66" cy="330.15" r="2.25"/><circle cx="384.82" cy="330.15" r="2.25"/><circle cx="386.98" cy="330.15" r="2.25"/><circle cx="389.15" cy="330.15" r="2.25"/><circle cx="391.31" cy="330.15" r="2.25"/><circle cx="393.47" cy="330.15" r="2.25"/><circle cx="395.63" cy="330.15" r="2.25"/><circle cx="397.79" cy="330.15" r="2.25"/><circle cx="399.96" cy="330.15" r="2.25"/><circle cx="402.12" cy="330.15" r="2.25"/><circle cx="404.28" cy="330.15" r="2.25"/><circle cx="406.44" cy="330.15" r="2.25"/><circle cx="408.60" cy="330.15" r="2.25"/><circle cx="410.77" cy="330.15" r="2.25"/><circle cx="412.93" cy="330.15" r="2.25"/><circle cx="415.09" cy="330.15" r="2.25"/><circle cx="417.25" cy="330.15" r="2.25"/><circle cx="419.41" cy="330.15" r="2.25"/><circle cx="421.58" cy="330.15" r="2.25"/><circle cx="423.74" cy="330.15" r="2.25"/><circle cx="425.90" cy="330.15" r="2.25"/><circle cx="428.06" cy="330.15" r="2.25"/><circle cx="430.22" cy="330.15" r="2.25"/><circle cx="432.39" cy="330.15" r="2.25"/><circle cx="434.55" cy="330.15" r="2.25"/><circle cx="436.71" cy="330.15" r="2.25"/><circle cx="438.87" cy="330.15" r="2.25"/><circle cx="441.03" cy="330.15" r="2.25"/><circle cx="443.20" cy="330.15" r="2.25"/><circle cx="445.36" cy="330.15" r="2.25"/><circle cx="447.52" cy="330.15" r="2.25"/><circle cx="449.68" cy="330.15" r="2.25"/><circle cx="451.84" cy="330.15" r="2.25"/><circle cx="454.01" cy="330.15" r="2.25"/><circle cx="456.17" cy="330.15" r="2.25"/><circle cx="458.33" cy="330.15" r="2.25"/><circle cx="460.49" cy="330.15" r="2.25"/><circle cx="462.65" cy="330.15" r="2.25"/><circle cx="464.82" cy="330.15" r="2.25"/><circle cx="466.98" cy="330.15" r="2.25"/><circle cx="469.14" cy="330.15" r="2.25"/><circle cx="471.30" cy="330.15" r="2.25"/><circle cx="473.46" cy="330.15" r="2.25"/><circle cx="475.63" cy="330.15" r="2.25"/><circle cx="477.79" cy="330.15" r="2.25"/><circle cx="479.95" cy="330.15" r="2.25"/><circle cx="482.11" cy="330.15" r="2.25"/><circle cx="484.27" cy="330.15" r="2.25"/><circle cx="486.44" cy="330.15" r="2.25"/><circle cx="488.60" cy="330.15" r="2.25"/><circle cx="490.76" cy="330.15" r="2.25"/><circle cx="492.92" cy="330.15" r="2.25"/><circle cx="495.08" cy="330.15" r="2.25"/><circle cx="497.25" cy="330.15" r="2.25"/><circle cx="499.41" cy="330.15" r="2.25"/><circle cx="501.57" cy="330.15" r="2.25"/><circle cx="503.73" cy="330.15" r="2.25"/><circle cx="505.89" cy="330.15" r="2.25"/><circle cx="508.06" cy="330.15" r="2.25"/><circle cx="510.22" cy="330.15" r="2.25"/><circle cx="512.38" cy="330.15" r="2.25"/><circle cx="514.54" cy="330.15" r="2.25"/><circle cx="516.70" cy="330.15" r="2.25"/><circle cx="518.87" cy="330.15" r="2.25"/><circle cx="521.03" cy="330.15" r="2.25"/><circle cx="523.19" cy="330.15" r="2.25"/><circle cx="525.35" cy="330.15" r="2.25"/><circle cx="527.51" cy="330.15" r="2.25"/><circle cx="529.68" cy="330.15" r="2.25"/><circle cx="531.84" cy="330.15" r="2.25"/><circle cx="534.00" cy="330.15" r="2.25"/></g>
</g>
<g stroke="#5DB11E" fill="none">
<polyline stroke-width="1.3" stroke-linejoin="round" points="317.80,330.15 319.96,12.15 322.12,12.15 324.29,12.15 326.45,12.15 328.61,12.15 330.77,12.15 332.93,12.15 335.10,12.15 337.26,12.15 339.42,12.15 341.58,12.15 343.74,12.15 345.91,12.15 348.07,12.15 350.23,12.15 352.39,12.15 354.55,12.15 356.72,12.15 358.88,12.15 361.04,12.15 363.20,12.15 365.36,12.75 367.53,18.65 369.69,24.33 371.85,29.82 374.01,35.12 376.17,40.24 378.34,45.19 380.50,49.98 382.66,54.62 384.82,59.11 386.98,63.46 389.15,67.67 391.31,71.76 393.47,75.73 395.63,79.58 397.79,83.32 399.96,86.95 402.12,90.48 404.28,93.92 406.44,97.26 408.60,100.51 410.77,103.67 412.93,106.75 415.09,109.75 417.25,112.68 419.41,115.53 421.58,118.31 423.74,121.02 425.90,123.66 428.06,126.25 430.22,128.77 432.39,131.23 434.55,133.63 436.71,135.98 438.87,138.28 441.03,140.52 443.20,142.71 445.36,144.86 447.52,146.96 449.68,149.01 451.84,151.02 454.01,152.99 456.17,154.92 458.33,156.81 460.49,158.66 462.65,160.47 464.82,162.25 466.98,163.99 469.14,165.69 471.30,167.37 473.46,169.01 475.63,170.62 477.79,172.20 479.95,173.75 482.11,175.27 484.27,176.76 486.44,178.23 488.60,179.67 490.76,181.08 492.92,182.47 495.08,183.84 497.25,185.18 499.41,186.50 501.57,187.79 503.73,189.07 505.89,190.32 508.06,191.55 510.22,192.76 512.38,193.95 514.54,195.13 516.70,196.28 518.87,197.41 521.03,198.53 523.19,199.63 525.35,200.71 527.51,201.77 529.68,202.82 531.84,203.85 534.00,204.87"/>
<g stroke-width="1.22"><circle cx="317.80" cy="330.15" r="2.25"/><circle cx="319.96" cy="12.15" r="2.25"/><circle cx="322.12" cy="12.15" r="2.25"/><circle cx="324.29" cy="12.15" r="2.25"/><circle cx="326.45" cy="12.15" r="2.25"/><circle cx="328.61" cy="12.15" r="2.25"/><circle cx="330.77" cy="12.15" r="2.25"/><circle cx="332.93" cy="12.15" r="2.25"/><circle cx="335.10" cy="12.15" r="2.25"/><circle cx="337.26" cy="12.15" r="2.25"/><circle cx="339.42" cy="12.15" r="2.25"/><circle cx="341.58" cy="12.15" r="2.25"/><circle cx="343.74" cy="12.15" r="2.25"/><circle cx="345.91" cy="12.15" r="2.25"/><circle cx="348.07" cy="12.15" r="2.25"/><circle cx="350.23" cy="12.15" r="2.25"/><circle cx="352.39" cy="12.15" r="2.25"/><circle cx="354.55" cy="12.15" r="2.25"/><circle cx="356.72" cy="12.15" r="2.25"/><circle cx="358.88" cy="12.15" r="2.25"/><circle cx="361.04" cy="12.15" r="2.25"/><circle cx="363.20" cy="12.15" r="2.25"/><circle cx="365.36" cy="12.75" r="2.25"/><circle cx="367.53" cy="18.65" r="2.25"/><circle cx="369.69" cy="24.33" r="2.25"/><circle cx="371.85" cy="29.82" r="2.25"/><circle cx="374.01" cy="35.12" r="2.25"/><circle cx="376.17" cy="40.24" r="2.25"/><circle cx="378.34" cy="45.19" r="2.25"/><circle cx="380.50" cy="49.98" r="2.25"/><circle cx="382.66" cy="54.62" r="2.25"/><circle cx="384.82" cy="59.11" r="2.25"/><circle cx="386.98" cy="63.46" r="2.25"/><circle cx="389.15" cy="67.67" r="2.25"/><circle cx="391.31" cy="71.76" r="2.25"/><circle cx="393.47" cy="75.73" r="2.25"/><circle cx="395.63" cy="79.58" r="2.25"/><circle cx="397.79" cy="83.32" r="2.25"/><circle cx="399.96" cy="86.95" r="2.25"/><circle cx="402.12" cy="90.48" r="2.25"/><circle cx="404.28" cy="93.92" r="2.25"/><circle cx="406.44" cy="97.26" r="2.25"/><circle cx="408.60" cy="100.51" r="2.25"/><circle cx="410.77" cy="103.67" r="2.25"/><circle cx="412.93" cy="106.75" r="2.25"/><circle cx="415.09" cy="109.75" r="2.25"/><circle cx="417.25" cy="112.68" r="2.25"/><circle cx="419.41" cy="115.53" r="2.25"/><circle cx="421.58" cy="118.31" r="2.25"/><circle cx="423.74" cy="121.02" r="2.25"/><circle cx="425.90" cy="123.66" r="2.25"/><circle cx="428.06" cy="126.25" r="2.25"/><circle cx="430.22" cy="128.77" r="2.25"/><circle cx="432.39" cy="131.23" r="2.25"/><circle cx="434.55" cy="133.63" r="2.25"/><circle cx="436.71" cy="135.98" r="2.25"/><circle cx="438.87" cy="138.28" r="2.25"/><circle cx="441.03" cy="140.52" r="2.25"/><circle cx="443.20" cy="142.71" r="2.25"/><circle cx="445.36" cy="144.86" r="2.25"/><circle cx="447.52" cy="146.96" r="2.25"/><circle cx="449.68" cy="149.01" r="2.25"/><circle cx="451.84" cy="151.02" r="2.25"/><circle cx="454.01" cy="152.99" r="2.25"/><circle cx="456.17" cy="154.92" r="2.25"/><circle cx="458.33" cy="156.81" r="2.25"/><circle cx="460.49" cy="158.66" r="2.25"/><circle cx="462.65" cy="160.47" r="2.25"/><circle cx="464.82" cy="162.25" r="2.25"/><circle cx="466.98" cy="163.99" r="2.25"/><circle cx="469.14" cy="165.69" r="2.25"/><circle cx="471.30" cy="167.37" r="2.25"/><circle cx="473.46" cy="169.01" r="2.25"/><circle cx="475.63" cy="170.62" r="2.25"/><circle cx="477.79" cy="172.20" r="2.25"/><circle cx="479.95" cy="173.75" r="2.25"/><circle cx="482.11" cy="175.27" r="2.25"/><circle cx="484.27" cy="176.76" r="2.25"/><circle cx="486.44" cy="178.23" r="2.25"/><circle cx="488.60" cy="179.67" r="2.25"/><circle cx="490.76" cy="181.08" r="2.25"/><circle cx="492.92" cy="182.47" r="2.25"/><circle cx="495.08" cy="183.84" r="2.25"/><circle cx="497.25" cy="185.18" r="2.25"/><circle cx="499.41" cy="186.50" r="2.25"/><circle cx="501.57" cy="187.79" r="2.25"/><circle cx="503.73" cy="189.07" r="2.25"/><circle cx="505.89" cy="190.32" r="2.25"/><circle cx="508.06" cy="191.55" r="2.25"/><circle cx="510.22" cy="192.76" r="2.25"/><circle cx="512.38" cy="193.95" r="2.25"/><circle cx="514.54" cy="195.13" r="2.25"/><circle cx="516.70" cy="196.28" r="2.25"/><circle cx="518.87" cy="197.41" r="2.25"/><circle cx="521.03" cy="198.53" r="2.25"/><circle cx="523.19" cy="199.63" r="2.25"/><circle cx="525.35" cy="200.71" r="2.25"/><circle cx="527.51" cy="201.77" r="2.25"/><circle cx="529.68" cy="202.82" r="2.25"/><circle cx="531.84" cy="203.85" r="2.25"/><circle cx="534.00" cy="204.87" r="2.25"/></g>
</g>
<g stroke="#1CB6F0" fill="none">
<polyline stroke-width="1.3" stroke-linejoin="round" points="317.80,330.15 319.96,12.15 322.12,12.15 324.29,12.15 326.45,12.15 328.61,12.15 330.77,12.15 332.93,12.15 335.10,12.15 337.26,12.15 339.42,12.15 341.58,12.15 343.74,12.15 345.91,12.15 348.07,12.15 350.23,12.15 352.39,12.15 354.55,12.15 356.72,12.15 358.88,12.15 361.04,12.15 363.20,12.15 365.36,12.15 367.53,12.15 369.69,12.15 371.85,12.15 374.01,12.15 376.17,12.15 378.34,12.15 380.50,12.15 382.66,12.15 384.82,12.15 386.98,12.15 389.15,12.15 391.31,12.15 393.47,12.15 395.63,12.15 397.79,12.15 399.96,12.15 402.12,12.15 404.28,12.15 406.44,12.15 408.60,12.15 410.77,12.18 412.93,12.25 415.09,12.34 417.25,12.48 419.41,12.66 421.58,12.85 423.74,13.06 425.90,13.26 428.06,13.49 430.22,13.74 432.39,14.01 434.55,14.27 436.71,14.51 438.87,14.69 441.03,14.84 443.20,14.97 445.36,15.08 447.52,15.17 449.68,15.24 451.84,15.29 454.01,15.34 456.17,15.38 458.33,15.43 460.49,15.47 462.65,15.51 464.82,15.55 466.98,15.60 469.14,15.65 471.30,15.70 473.46,15.75 475.63,15.81 477.79,15.88 479.95,15.97 482.11,16.09 484.27,16.26 486.44,16.46 488.60,16.68 490.76,16.92 492.92,17.18 495.08,17.47 497.25,17.80 499.41,18.15 501.57,18.51 503.73,18.90 505.89,19.32 508.06,19.77 510.22,20.24 512.38,20.74 514.54,21.25 516.70,21.80 518.87,22.38 521.03,22.98 523.19,23.60 525.35,24.24 527.51,24.92 529.68,25.62 531.84,26.34 534.00,27.10"/>
<g stroke-width="1.22"><circle cx="317.80" cy="330.15" r="2.25"/><circle cx="319.96" cy="12.15" r="2.25"/><circle cx="322.12" cy="12.15" r="2.25"/><circle cx="324.29" cy="12.15" r="2.25"/><circle cx="326.45" cy="12.15" r="2.25"/><circle cx="328.61" cy="12.15" r="2.25"/><circle cx="330.77" cy="12.15" r="2.25"/><circle cx="332.93" cy="12.15" r="2.25"/><circle cx="335.10" cy="12.15" r="2.25"/><circle cx="337.26" cy="12.15" r="2.25"/><circle cx="339.42" cy="12.15" r="2.25"/><circle cx="341.58" cy="12.15" r="2.25"/><circle cx="343.74" cy="12.15" r="2.25"/><circle cx="345.91" cy="12.15" r="2.25"/><circle cx="348.07" cy="12.15" r="2.25"/><circle cx="350.23" cy="12.15" r="2.25"/><circle cx="352.39" cy="12.15" r="2.25"/><circle cx="354.55" cy="12.15" r="2.25"/><circle cx="356.72" cy="12.15" r="2.25"/><circle cx="358.88" cy="12.15" r="2.25"/><circle cx="361.04" cy="12.15" r="2.25"/><circle cx="363.20" cy="12.15" r="2.25"/><circle cx="365.36" cy="12.15" r="2.25"/><circle cx="367.53" cy="12.15" r="2.25"/><circle cx="369.69" cy="12.15" r="2.25"/><circle cx="371.85" cy="12.15" r="2.25"/><circle cx="374.01" cy="12.15" r="2.25"/><circle cx="376.17" cy="12.15" r="2.25"/><circle cx="378.34" cy="12.15" r="2.25"/><circle cx="380.50" cy="12.15" r="2.25"/><circle cx="382.66" cy="12.15" r="2.25"/><circle cx="384.82" cy="12.15" r="2.25"/><circle cx="386.98" cy="12.15" r="2.25"/><circle cx="389.15" cy="12.15" r="2.25"/><circle cx="391.31" cy="12.15" r="2.25"/><circle cx="393.47" cy="12.15" r="2.25"/><circle cx="395.63" cy="12.15" r="2.25"/><circle cx="397.79" cy="12.15" r="2.25"/><circle cx="399.96" cy="12.15" r="2.25"/><circle cx="402.12" cy="12.15" r="2.25"/><circle cx="404.28" cy="12.15" r="2.25"/><circle cx="406.44" cy="12.15" r="2.25"/><circle cx="408.60" cy="12.15" r="2.25"/><circle cx="410.77" cy="12.18" r="2.25"/><circle cx="412.93" cy="12.25" r="2.25"/><circle cx="415.09" cy="12.34" r="2.25"/><circle cx="417.25" cy="12.48" r="2.25"/><circle cx="419.41" cy="12.66" r="2.25"/><circle cx="421.58" cy="12.85" r="2.25"/><circle cx="423.74" cy="13.06" r="2.25"/><circle cx="425.90" cy="13.26" r="2.25"/><circle cx="428.06" cy="13.49" r="2.25"/><circle cx="430.22" cy="13.74" r="2.25"/><circle cx="432.39" cy="14.01" r="2.25"/><circle cx="434.55" cy="14.27" r="2.25"/><circle cx="436.71" cy="14.51" r="2.25"/><circle cx="438.87" cy="14.69" r="2.25"/><circle cx="441.03" cy="14.84" r="2.25"/><circle cx="443.20" cy="14.97" r="2.25"/><circle cx="445.36" cy="15.08" r="2.25"/><circle cx="447.52" cy="15.17" r="2.25"/><circle cx="449.68" cy="15.24" r="2.25"/><circle cx="451.84" cy="15.29" r="2.25"/><circle cx="454.01" cy="15.34" r="2.25"/><circle cx="456.17" cy="15.38" r="2.25"/><circle cx="458.33" cy="15.43" r="2.25"/><circle cx="460.49" cy="15.47" r="2.25"/><circle cx="462.65" cy="15.51" r="2.25"/><circle cx="464.82" cy="15.55" r="2.25"/><circle cx="466.98" cy="15.60" r="2.25"/><circle cx="469.14" cy="15.65" r="2.25"/><circle cx="471.30" cy="15.70" r="2.25"/><circle cx="473.46" cy="15.75" r="2.25"/><circle cx="475.63" cy="15.81" r="2.25"/><circle cx="477.79" cy="15.88" r="2.25"/><circle cx="479.95" cy="15.97" r="2.25"/><circle cx="482.11" cy="16.09" r="2.25"/><circle cx="484.27" cy="16.26" r="2.25"/><circle cx="486.44" cy="16.46" r="2.25"/><circle cx="488.60" cy="16.68" r="2.25"/><circle cx="490.76" cy="16.92" r="2.25"/><circle cx="492.92" cy="17.18" r="2.25"/><circle cx="495.08" cy="17.47" r="2.25"/><circle cx="497.25" cy="17.80" r="2.25"/><circle cx="499.41" cy="18.15" r="2.25"/><circle cx="501.57" cy="18.51" r="2.25"/><circle cx="503.73" cy="18.90" r="2.25"/><circle cx="505.89" cy="19.32" r="2.25"/><circle cx="508.06" cy="19.77" r="2.25"/><circle cx="510.22" cy="20.24" r="2.25"/><circle cx="512.38" cy="20.74" r="2.25"/><circle cx="514.54" cy="21.25" r="2.25"/><circle cx="516.70" cy="21.80" r="2.25"/><circle cx="518.87" cy="22.38" r="2.25"/><circle cx="521.03" cy="22.98" r="2.25"/><circle cx="523.19" cy="23.60" r="2.25"/><circle cx="525.35" cy="24.24" r="2.25"/><circle cx="527.51" cy="24.92" r="2.25"/><circle cx="529.68" cy="25.62" r="2.25"/><circle cx="531.84" cy="26.34" r="2.25"/><circle cx="534.00" cy="27.10" r="2.25"/></g>
</g>
<g stroke="#C8102E" fill="none">
<polyline stroke-width="1.3" stroke-linejoin="round" points="317.80,330.15 319.96,12.15 322.12,12.15 324.29,12.15 326.45,12.15 328.61,12.15 330.77,12.15 332.93,12.15 335.10,12.15 337.26,12.15 339.42,12.15 341.58,12.15 343.74,12.15 345.91,12.15 348.07,12.15 350.23,12.15 352.39,12.15 354.55,12.15 356.72,12.15 358.88,12.15 361.04,12.15 363.20,12.15 365.36,12.15 367.53,12.15 369.69,12.15 371.85,12.15 374.01,12.15 376.17,12.15 378.34,12.15 380.50,12.15 382.66,12.15 384.82,12.15 386.98,12.15 389.15,12.15 391.31,12.15 393.47,12.15 395.63,12.15 397.79,12.15 399.96,12.15 402.12,12.17 404.28,12.21 406.44,12.27 408.60,12.34 410.77,12.42 412.93,12.52 415.09,12.63 417.25,12.75 419.41,12.89 421.58,13.05 423.74,13.23 425.90,13.42 428.06,13.64 430.22,13.88 432.39,14.15 434.55,14.47 436.71,14.85 438.87,15.35 441.03,16.01 443.20,16.78 445.36,17.62 447.52,18.51 449.68,19.47 451.84,20.54 454.01,21.71 456.17,22.94 458.33,24.23 460.49,25.59 462.65,27.03 464.82,28.55 466.98,30.17 469.14,31.87 471.30,33.69 473.46,35.64 475.63,37.71 477.79,39.85 479.95,42.04 482.11,44.30 484.27,46.64 486.44,49.07 488.60,51.56 490.76,54.13 492.92,56.76 495.08,59.48 497.25,62.27 499.41,65.15 501.57,68.12 503.73,71.21 505.89,74.43 508.06,77.73 510.22,81.05 512.38,84.34 514.54,87.58 516.70,90.82 518.87,94.07 521.03,97.31 523.19,100.55 525.35,103.80 527.51,107.04 529.68,110.28 531.84,113.53 534.00,116.77"/>
<g stroke-width="1.22"><circle cx="317.80" cy="330.15" r="2.25"/><circle cx="319.96" cy="12.15" r="2.25"/><circle cx="322.12" cy="12.15" r="2.25"/><circle cx="324.29" cy="12.15" r="2.25"/><circle cx="326.45" cy="12.15" r="2.25"/><circle cx="328.61" cy="12.15" r="2.25"/><circle cx="330.77" cy="12.15" r="2.25"/><circle cx="332.93" cy="12.15" r="2.25"/><circle cx="335.10" cy="12.15" r="2.25"/><circle cx="337.26" cy="12.15" r="2.25"/><circle cx="339.42" cy="12.15" r="2.25"/><circle cx="341.58" cy="12.15" r="2.25"/><circle cx="343.74" cy="12.15" r="2.25"/><circle cx="345.91" cy="12.15" r="2.25"/><circle cx="348.07" cy="12.15" r="2.25"/><circle cx="350.23" cy="12.15" r="2.25"/><circle cx="352.39" cy="12.15" r="2.25"/><circle cx="354.55" cy="12.15" r="2.25"/><circle cx="356.72" cy="12.15" r="2.25"/><circle cx="358.88" cy="12.15" r="2.25"/><circle cx="361.04" cy="12.15" r="2.25"/><circle cx="363.20" cy="12.15" r="2.25"/><circle cx="365.36" cy="12.15" r="2.25"/><circle cx="367.53" cy="12.15" r="2.25"/><circle cx="369.69" cy="12.15" r="2.25"/><circle cx="371.85" cy="12.15" r="2.25"/><circle cx="374.01" cy="12.15" r="2.25"/><circle cx="376.17" cy="12.15" r="2.25"/><circle cx="378.34" cy="12.15" r="2.25"/><circle cx="380.50" cy="12.15" r="2.25"/><circle cx="382.66" cy="12.15" r="2.25"/><circle cx="384.82" cy="12.15" r="2.25"/><circle cx="386.98" cy="12.15" r="2.25"/><circle cx="389.15" cy="12.15" r="2.25"/><circle cx="391.31" cy="12.15" r="2.25"/><circle cx="393.47" cy="12.15" r="2.25"/><circle cx="395.63" cy="12.15" r="2.25"/><circle cx="397.79" cy="12.15" r="2.25"/><circle cx="399.96" cy="12.15" r="2.25"/><circle cx="402.12" cy="12.17" r="2.25"/><circle cx="404.28" cy="12.21" r="2.25"/><circle cx="406.44" cy="12.27" r="2.25"/><circle cx="408.60" cy="12.34" r="2.25"/><circle cx="410.77" cy="12.42" r="2.25"/><circle cx="412.93" cy="12.52" r="2.25"/><circle cx="415.09" cy="12.63" r="2.25"/><circle cx="417.25" cy="12.75" r="2.25"/><circle cx="419.41" cy="12.89" r="2.25"/><circle cx="421.58" cy="13.05" r="2.25"/><circle cx="423.74" cy="13.23" r="2.25"/><circle cx="425.90" cy="13.42" r="2.25"/><circle cx="428.06" cy="13.64" r="2.25"/><circle cx="430.22" cy="13.88" r="2.25"/><circle cx="432.39" cy="14.15" r="2.25"/><circle cx="434.55" cy="14.47" r="2.25"/><circle cx="436.71" cy="14.85" r="2.25"/><circle cx="438.87" cy="15.35" r="2.25"/><circle cx="441.03" cy="16.01" r="2.25"/><circle cx="443.20" cy="16.78" r="2.25"/><circle cx="445.36" cy="17.62" r="2.25"/><circle cx="447.52" cy="18.51" r="2.25"/><circle cx="449.68" cy="19.47" r="2.25"/><circle cx="451.84" cy="20.54" r="2.25"/><circle cx="454.01" cy="21.71" r="2.25"/><circle cx="456.17" cy="22.94" r="2.25"/><circle cx="458.33" cy="24.23" r="2.25"/><circle cx="460.49" cy="25.59" r="2.25"/><circle cx="462.65" cy="27.03" r="2.25"/><circle cx="464.82" cy="28.55" r="2.25"/><circle cx="466.98" cy="30.17" r="2.25"/><circle cx="469.14" cy="31.87" r="2.25"/><circle cx="471.30" cy="33.69" r="2.25"/><circle cx="473.46" cy="35.64" r="2.25"/><circle cx="475.63" cy="37.71" r="2.25"/><circle cx="477.79" cy="39.85" r="2.25"/><circle cx="479.95" cy="42.04" r="2.25"/><circle cx="482.11" cy="44.30" r="2.25"/><circle cx="484.27" cy="46.64" r="2.25"/><circle cx="486.44" cy="49.07" r="2.25"/><circle cx="488.60" cy="51.56" r="2.25"/><circle cx="490.76" cy="54.13" r="2.25"/><circle cx="492.92" cy="56.76" r="2.25"/><circle cx="495.08" cy="59.48" r="2.25"/><circle cx="497.25" cy="62.27" r="2.25"/><circle cx="499.41" cy="65.15" r="2.25"/><circle cx="501.57" cy="68.12" r="2.25"/><circle cx="503.73" cy="71.21" r="2.25"/><circle cx="505.89" cy="74.43" r="2.25"/><circle cx="508.06" cy="77.73" r="2.25"/><circle cx="510.22" cy="81.05" r="2.25"/><circle cx="512.38" cy="84.34" r="2.25"/><circle cx="514.54" cy="87.58" r="2.25"/><circle cx="516.70" cy="90.82" r="2.25"/><circle cx="518.87" cy="94.07" r="2.25"/><circle cx="521.03" cy="97.31" r="2.25"/><circle cx="523.19" cy="100.55" r="2.25"/><circle cx="525.35" cy="103.80" r="2.25"/><circle cx="527.51" cy="107.04" r="2.25"/><circle cx="529.68" cy="110.28" r="2.25"/><circle cx="531.84" cy="113.53" r="2.25"/><circle cx="534.00" cy="116.77" r="2.25"/></g>
</g>
<rect x="452.50" y="243.40" width="78.8" height="70.5" fill="#fff" stroke="#707070" stroke-width="0.7"/>
<g stroke="#0A72C4" fill="none"><line x1="454.50" y1="249.80" x2="471.90" y2="249.80" stroke-width="1.5"/><circle cx="463.20" cy="249.80" r="2.3" stroke-width="1.4"/></g>
<text transform="translate(474.00,252.20) scale(0.97,1)" text-anchor="start" class="lg">Lr1-constant</text>
<g stroke="#FF5A10" fill="none"><line x1="454.50" y1="259.66" x2="471.90" y2="259.66" stroke-width="1.5"/><circle cx="463.20" cy="259.66" r="2.3" stroke-width="1.4"/></g>
<text transform="translate(474.00,262.06) scale(0.97,1)" text-anchor="start" class="lg">Lr2-itrDecay</text>
<g stroke="#FFB000" fill="none"><line x1="454.50" y1="269.52" x2="471.90" y2="269.52" stroke-width="1.5"/><circle cx="463.20" cy="269.52" r="2.3" stroke-width="1.4"/></g>
<text transform="translate(474.00,271.92) scale(0.97,1)" text-anchor="start" class="lg">Lr3-expDecay</text>
<g stroke="#9A2CB0" fill="none"><line x1="454.50" y1="279.38" x2="471.90" y2="279.38" stroke-width="1.5"/><circle cx="463.20" cy="279.38" r="2.3" stroke-width="1.4"/></g>
<text transform="translate(474.00,281.78) scale(0.97,1)" text-anchor="start" class="lg">Lr4-stepDecay</text>
<g stroke="#5DB11E" fill="none"><line x1="454.50" y1="289.24" x2="471.90" y2="289.24" stroke-width="1.5"/><circle cx="463.20" cy="289.24" r="2.3" stroke-width="1.4"/></g>
<text transform="translate(474.00,291.64) scale(0.97,1)" text-anchor="start" class="lg">Lr5-lossRescale</text>
<g stroke="#1CB6F0" fill="none"><line x1="454.50" y1="299.10" x2="471.90" y2="299.10" stroke-width="1.5"/><circle cx="463.20" cy="299.10" r="2.3" stroke-width="1.4"/></g>
<text transform="translate(474.00,301.50) scale(0.97,1)" text-anchor="start" class="lg">Lr6-lossCos</text>
<g stroke="#C8102E" fill="none"><line x1="454.50" y1="308.96" x2="471.90" y2="308.96" stroke-width="1.5"/><circle cx="463.20" cy="308.96" r="2.3" stroke-width="1.4"/></g>
<text transform="translate(474.00,311.36) scale(0.97,1)" text-anchor="start" class="lg">Lr7-lossProb</text>
</svg>
</body></html>
